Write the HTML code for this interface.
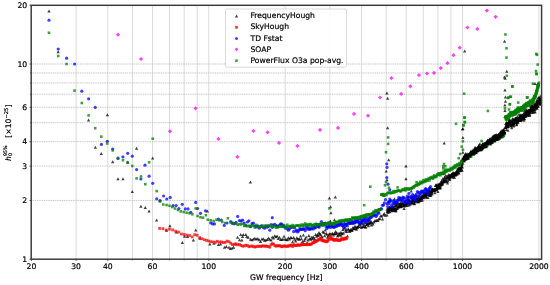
<!DOCTYPE html>
<html><head><meta charset="utf-8"><style>html,body{margin:0;padding:0;background:#fff;overflow:hidden}svg{display:block}</style></head>
<body><svg width="550" height="285" viewBox="0 0 550 285">
<rect width="550" height="285" fill="#fff"/>
<path d="M76.08 5.30V259.20M107.79 5.30V259.20M152.47 5.30V259.20M208.76 5.30V259.20M285.15 5.30V259.20M329.83 5.30V259.20M361.54 5.30V259.20M406.22 5.30V259.20M462.51 5.30V259.20M538.90 5.30V259.20M132.38 5.30V259.20M169.46 5.30V259.20M184.17 5.30V259.20M197.15 5.30V259.20M386.13 5.30V259.20M423.21 5.30V259.20M437.92 5.30V259.20M450.90 5.30V259.20" stroke="#d6d6d6" stroke-width="0.9" fill="none"/>
<path d="M31.40 200.44H541.60M31.40 166.07H541.60M31.40 141.68H541.60M31.40 107.30H541.60M31.40 64.00H541.60M31.40 122.76H541.60M31.40 94.24H541.60M31.40 82.92H541.60M31.40 72.93H541.60" stroke="#c2c2c2" stroke-width="0.95" stroke-dasharray="1.1 0.7" fill="none"/>
<g fill="#008000" fill-opacity="0.75"><path d="M458.8 162.9h2.6v2.6h-2.6z"/><path d="M459.2 162.8h2.6v2.6h-2.6z"/><path d="M459.7 160.4h2.6v2.6h-2.6z"/><path d="M460.1 159.8h2.6v2.6h-2.6z"/><path d="M460.6 160.7h2.6v2.6h-2.6z"/><path d="M461 159.5h2.6v2.6h-2.6z"/><path d="M461.4 157.7h2.6v2.6h-2.6z"/><path d="M461.9 159.8h2.6v2.6h-2.6z"/><path d="M462.3 158.9h2.6v2.6h-2.6z"/><path d="M462.7 157.9h2.6v2.6h-2.6z"/><path d="M463.2 159.6h2.6v2.6h-2.6z"/><path d="M463.6 157.6h2.6v2.6h-2.6z"/><path d="M464 156.6h2.6v2.6h-2.6z"/><path d="M464.5 157h2.6v2.6h-2.6z"/><path d="M464.9 155.9h2.6v2.6h-2.6z"/><path d="M465.3 155.8h2.6v2.6h-2.6z"/><path d="M465.7 156.5h2.6v2.6h-2.6z"/><path d="M466.2 155.5h2.6v2.6h-2.6z"/><path d="M466.6 155.4h2.6v2.6h-2.6z"/><path d="M467 156.8h2.6v2.6h-2.6z"/><path d="M467.4 155.9h2.6v2.6h-2.6z"/><path d="M467.8 155.6h2.6v2.6h-2.6z"/><path d="M468.3 155.2h2.6v2.6h-2.6z"/><path d="M468.7 154.9h2.6v2.6h-2.6z"/><path d="M469.1 155.4h2.6v2.6h-2.6z"/><path d="M469.5 154h2.6v2.6h-2.6z"/><path d="M469.9 155.2h2.6v2.6h-2.6z"/><path d="M470.3 152.7h2.6v2.6h-2.6z"/><path d="M470.7 153h2.6v2.6h-2.6z"/><path d="M471.1 151.9h2.6v2.6h-2.6z"/><path d="M471.5 152.5h2.6v2.6h-2.6z"/><path d="M471.9 152.9h2.6v2.6h-2.6z"/><path d="M472.5 153.3h2.6v2.6h-2.6z"/><path d="M473.1 151.2h2.6v2.6h-2.6z"/><path d="M473.7 151.4h2.6v2.6h-2.6z"/><path d="M474.3 150.7h2.6v2.6h-2.6z"/><path d="M474.9 150.1h2.6v2.6h-2.6z"/><path d="M475.5 149.4h2.6v2.6h-2.6z"/><path d="M476 150h2.6v2.6h-2.6z"/><path d="M476.6 148.2h2.6v2.6h-2.6z"/><path d="M477.2 149.3h2.6v2.6h-2.6z"/><path d="M477.8 148.9h2.6v2.6h-2.6z"/><path d="M478.3 148h2.6v2.6h-2.6z"/><path d="M478.9 147.3h2.6v2.6h-2.6z"/><path d="M479.5 146.6h2.6v2.6h-2.6z"/><path d="M480 148.8h2.6v2.6h-2.6z"/><path d="M480.6 145.8h2.6v2.6h-2.6z"/><path d="M481.1 147.7h2.6v2.6h-2.6z"/><path d="M481.7 146.5h2.6v2.6h-2.6z"/><path d="M482.2 145.3h2.6v2.6h-2.6z"/><path d="M482.8 144.2h2.6v2.6h-2.6z"/><path d="M483.3 145.5h2.6v2.6h-2.6z"/><path d="M483.8 145.7h2.6v2.6h-2.6z"/><path d="M484.4 143.1h2.6v2.6h-2.6z"/><path d="M484.9 143.2h2.6v2.6h-2.6z"/><path d="M485.5 143.8h2.6v2.6h-2.6z"/><path d="M486 142.8h2.6v2.6h-2.6z"/><path d="M486.5 143.8h2.6v2.6h-2.6z"/><path d="M487 141.3h2.6v2.6h-2.6z"/><path d="M487.6 141.8h2.6v2.6h-2.6z"/><path d="M488.1 139.9h2.6v2.6h-2.6z"/><path d="M488.6 142.2h2.6v2.6h-2.6z"/><path d="M489.1 139.6h2.6v2.6h-2.6z"/><path d="M489.6 138.2h2.6v2.6h-2.6z"/><path d="M490.1 139.7h2.6v2.6h-2.6z"/><path d="M490.6 139.4h2.6v2.6h-2.6z"/><path d="M491.1 140.9h2.6v2.6h-2.6z"/><path d="M491.6 138.8h2.6v2.6h-2.6z"/><path d="M492.1 138.9h2.6v2.6h-2.6z"/><path d="M492.6 139.1h2.6v2.6h-2.6z"/><path d="M493.1 139.7h2.6v2.6h-2.6z"/><path d="M493.6 138.2h2.6v2.6h-2.6z"/><path d="M494.1 138.9h2.6v2.6h-2.6z"/><path d="M494.6 138.2h2.6v2.6h-2.6z"/><path d="M495.1 137.4h2.6v2.6h-2.6z"/><path d="M495.6 137.5h2.6v2.6h-2.6z"/><path d="M496.1 137.3h2.6v2.6h-2.6z"/><path d="M496.5 136.3h2.6v2.6h-2.6z"/><path d="M497 137.8h2.6v2.6h-2.6z"/><path d="M497.5 135.6h2.6v2.6h-2.6z"/><path d="M498 137.4h2.6v2.6h-2.6z"/><path d="M498.5 137.1h2.6v2.6h-2.6z"/><path d="M498.9 136h2.6v2.6h-2.6z"/><path d="M499.4 135.2h2.6v2.6h-2.6z"/><path d="M499.9 135.4h2.6v2.6h-2.6z"/><path d="M500.3 135.7h2.6v2.6h-2.6z"/><path d="M500.8 135.7h2.6v2.6h-2.6z"/><path d="M501.2 135.1h2.6v2.6h-2.6z"/><path d="M501.7 135.5h2.6v2.6h-2.6z"/><path d="M502.2 134h2.6v2.6h-2.6z"/><path d="M502.6 134.4h2.6v2.6h-2.6z"/><path d="M503.1 132.7h2.6v2.6h-2.6z"/></g>
<g fill="#000" fill-opacity="0.75"><path d="M49 9.6l1.6 3h-3.3z"/><path d="M58.2 50.2l1.6 3h-3.3z"/><path d="M88.6 118.4l1.6 3h-3.3z"/><path d="M95.4 145.7l1.6 3h-3.3z"/><path d="M101.3 152l1.6 3h-3.3z"/><path d="M107.4 113.2l1.6 3h-3.3z"/><path d="M112.7 160.3l1.6 3h-3.3z"/><path d="M118 177.2l1.6 3h-3.3z"/><path d="M123 177.2l1.6 3h-3.3z"/><path d="M127.7 160.5l1.6 3h-3.3z"/><path d="M132.3 190l1.6 3h-3.3z"/><path d="M136.6 146.8l1.6 3h-3.3z"/><path d="M140.9 204.7l1.6 3h-3.3z"/><path d="M145.3 206.1l1.6 3h-3.3z"/><path d="M149.1 209.6l1.6 3h-3.3z"/><path d="M152.7 156.4l1.6 3h-3.3z"/><path d="M156.7 218.4l1.6 3h-3.3z"/><path d="M160 199.2l1.6 3h-3.3z"/><path d="M184.5 234.8l1.6 3h-3.3z"/><path d="M187.5 235.1l1.6 3h-3.3z"/><path d="M166.5 228.8l1.6 3h-3.3z"/><path d="M176.4 230.4l1.6 3h-3.3z"/><path d="M200 236.7l1.6 3h-3.3z"/><path d="M214 241.7l1.6 3h-3.3z"/><path d="M170 224.2l1.6 3h-3.3z"/><path d="M182.4 241l1.6 3h-3.3z"/><path d="M193.4 238.5l1.6 3h-3.3z"/><path d="M195.8 228.5l1.6 3h-3.3z"/><path d="M207.4 209.6l1.6 3h-3.3z"/><path d="M209.9 242.6l1.6 3h-3.3z"/><path d="M218.5 243.1l1.6 3h-3.3z"/><path d="M220.6 242.6l1.6 3h-3.3z"/><path d="M224.5 245.8l1.6 3h-3.3z"/><path d="M226.4 245.1l1.6 3h-3.3z"/><path d="M229 245.8l1.6 3h-3.3z"/><path d="M230.4 247l1.6 3h-3.3z"/><path d="M232.1 246.5l1.6 3h-3.3z"/><path d="M233.6 245.8l1.6 3h-3.3z"/><path d="M235.8 242.4l1.6 3h-3.3z"/><path d="M237.6 235.7l1.6 3h-3.3z"/><path d="M239.5 238.2l1.6 3h-3.3z"/><path d="M240.7 232.9l1.6 3h-3.3z"/><path d="M241.9 238.5l1.6 3h-3.3z"/><path d="M242.6 235l1.6 3h-3.3z"/><path d="M243.3 232.9l1.6 3h-3.3z"/><path d="M245.8 232.9l1.6 3h-3.3z"/><path d="M246.8 235l1.6 3h-3.3z"/><path d="M248.2 235.7l1.6 3h-3.3z"/><path d="M250.4 180.6l1.6 3h-3.3z"/><path d="M329.4 196.5l1.6 3h-3.3z"/><path d="M335.4 195.6l1.6 3h-3.3z"/><path d="M331 211.2l1.6 3h-3.3z"/><path d="M334.5 218.2l1.6 3h-3.3z"/><path d="M330.6 205.2l1.6 3h-3.3z"/><path d="M330.4 219.4l1.6 3h-3.3z"/><path d="M386.9 91.4l1.6 3h-3.3z"/><path d="M387.7 96.8l1.6 3h-3.3z"/><path d="M387.7 126.3l1.6 3h-3.3z"/><path d="M388.7 158.2l1.6 3h-3.3z"/><path d="M386.2 169.4l1.6 3h-3.3z"/><path d="M387 178.2l1.6 3h-3.3z"/><path d="M406 164.5l1.6 3h-3.3z"/><path d="M406 177.2l1.6 3h-3.3z"/><path d="M411.3 189.4l1.6 3h-3.3z"/><path d="M394.5 197.2l1.6 3h-3.3z"/><path d="M444.2 141.4l1.6 3h-3.3z"/><path d="M464.7 49.6l1.6 3h-3.3z"/><path d="M462.6 127.5l1.6 3h-3.3z"/><path d="M462.9 126.9l1.6 3h-3.3z"/><path d="M462.9 135.9l1.6 3h-3.3z"/><path d="M462.9 150.7l1.6 3h-3.3z"/><path d="M462.9 157.4l1.6 3h-3.3z"/><path d="M462.9 161.8l1.6 3h-3.3z"/><path d="M504.6 39.7l1.6 3h-3.3z"/><path d="M506.8 69.8l1.6 3h-3.3z"/><path d="M505.2 76.8l1.6 3h-3.3z"/><path d="M504.5 75.6l1.6 3h-3.3z"/><path d="M505 88.4l1.6 3h-3.3z"/><path d="M505.5 95.6l1.6 3h-3.3z"/><path d="M505.5 99.8l1.6 3h-3.3z"/><path d="M504.9 103.4l1.6 3h-3.3z"/><path d="M505 109.1l1.6 3h-3.3z"/><path d="M505 115l1.6 3h-3.3z"/><path d="M535 81.9l1.6 3h-3.3z"/><path d="M538.2 81.9l1.6 3h-3.3z"/><path d="M443.5 171.9l1.6 3h-3.3z"/><path d="M250.5 237.7l1.6 3h-3.3z"/><path d="M252 238.2l1.6 3h-3.3z"/><path d="M253.4 237.6l1.6 3h-3.3z"/><path d="M254.9 236.8l1.6 3h-3.3z"/><path d="M256.3 237.5l1.6 3h-3.3z"/><path d="M257.8 236.9l1.6 3h-3.3z"/><path d="M259.2 238.3l1.6 3h-3.3z"/><path d="M260.6 240l1.6 3h-3.3z"/><path d="M261.9 237.5l1.6 3h-3.3z"/><path d="M263.3 237.3l1.6 3h-3.3z"/><path d="M264.6 238.7l1.6 3h-3.3z"/><path d="M265.9 238.4l1.6 3h-3.3z"/><path d="M267.2 238l1.6 3h-3.3z"/><path d="M268.5 236.6l1.6 3h-3.3z"/><path d="M269.8 237.7l1.6 3h-3.3z"/><path d="M271.1 238.4l1.6 3h-3.3z"/><path d="M272.3 235.5l1.6 3h-3.3z"/><path d="M273.5 236.4l1.6 3h-3.3z"/><path d="M274.8 234.3l1.6 3h-3.3z"/><path d="M276 235.2l1.6 3h-3.3z"/><path d="M277.2 234.6l1.6 3h-3.3z"/><path d="M278.3 236.9l1.6 3h-3.3z"/><path d="M279.5 235.7l1.6 3h-3.3z"/><path d="M280.7 237.9l1.6 3h-3.3z"/><path d="M281.8 237.9l1.6 3h-3.3z"/><path d="M282.9 237.6l1.6 3h-3.3z"/><path d="M284 234.8l1.6 3h-3.3z"/><path d="M285.1 237.5l1.6 3h-3.3z"/><path d="M286.2 238.1l1.6 3h-3.3z"/><path d="M287.3 238.3l1.6 3h-3.3z"/><path d="M288.4 236.2l1.6 3h-3.3z"/><path d="M289.5 237.6l1.6 3h-3.3z"/><path d="M290.5 236l1.6 3h-3.3z"/><path d="M291.6 236.3l1.6 3h-3.3z"/><path d="M292.6 240.3l1.6 3h-3.3z"/><path d="M293.6 236.1l1.6 3h-3.3z"/><path d="M294.6 237.7l1.6 3h-3.3z"/><path d="M295.7 239.6l1.6 3h-3.3z"/><path d="M296.7 236.3l1.6 3h-3.3z"/><path d="M297.6 237.2l1.6 3h-3.3z"/><path d="M298.6 237.6l1.6 3h-3.3z"/><path d="M299.6 237.4l1.6 3h-3.3z"/><path d="M300.6 234.5l1.6 3h-3.3z"/><path d="M301.5 237.3l1.6 3h-3.3z"/><path d="M302.5 240.1l1.6 3h-3.3z"/><path d="M303.4 233.6l1.6 3h-3.3z"/><path d="M304.3 238.9l1.6 3h-3.3z"/><path d="M305.2 237.2l1.6 3h-3.3z"/><path d="M306.2 235.5l1.6 3h-3.3z"/><path d="M307.1 241.2l1.6 3h-3.3z"/><path d="M308 238.5l1.6 3h-3.3z"/><path d="M308.9 234.1l1.6 3h-3.3z"/><path d="M309.7 236.9l1.6 3h-3.3z"/><path d="M310.6 237.7l1.6 3h-3.3z"/><path d="M311.5 235.7l1.6 3h-3.3z"/><path d="M312.4 237.3l1.6 3h-3.3z"/><path d="M313.2 235.3l1.6 3h-3.3z"/><path d="M314.1 236.6l1.6 3h-3.3z"/><path d="M314.9 238l1.6 3h-3.3z"/><path d="M315.7 233.1l1.6 3h-3.3z"/><path d="M316.6 234.7l1.6 3h-3.3z"/><path d="M317.4 232.9l1.6 3h-3.3z"/><path d="M318.2 233.9l1.6 3h-3.3z"/><path d="M319 230.9l1.6 3h-3.3z"/><path d="M319.8 232.2l1.6 3h-3.3z"/><path d="M320.6 232.9l1.6 3h-3.3z"/><path d="M321.4 235.2l1.6 3h-3.3z"/><path d="M322.2 235.6l1.6 3h-3.3z"/><path d="M323 230.1l1.6 3h-3.3z"/><path d="M323.8 231.1l1.6 3h-3.3z"/><path d="M324.6 234.2l1.6 3h-3.3z"/><path d="M325.3 228.4l1.6 3h-3.3z"/><path d="M326.1 231.8l1.6 3h-3.3z"/><path d="M326.9 232.7l1.6 3h-3.3z"/><path d="M327.6 235.7l1.6 3h-3.3z"/><path d="M328.4 234.6l1.6 3h-3.3z"/><path d="M329.1 232.4l1.6 3h-3.3z"/><path d="M329.8 232.4l1.6 3h-3.3z"/><path d="M330.6 232.6l1.6 3h-3.3z"/><path d="M331.3 236.4l1.6 3h-3.3z"/><path d="M332 232l1.6 3h-3.3z"/><path d="M332.7 232.1l1.6 3h-3.3z"/><path d="M333.4 233.5l1.6 3h-3.3z"/><path d="M334.2 232.3l1.6 3h-3.3z"/><path d="M334.9 232l1.6 3h-3.3z"/><path d="M335.6 229.9l1.6 3h-3.3z"/><path d="M336.3 232.2l1.6 3h-3.3z"/><path d="M336.9 231.2l1.6 3h-3.3z"/><path d="M337.6 234.6l1.6 3h-3.3z"/><path d="M338.3 233.4l1.6 3h-3.3z"/><path d="M339 231.8l1.6 3h-3.3z"/><path d="M339.7 233.2l1.6 3h-3.3z"/><path d="M340.3 230.9l1.6 3h-3.3z"/><path d="M341 233.7l1.6 3h-3.3z"/><path d="M341.7 231.2l1.6 3h-3.3z"/><path d="M342.3 232.3l1.6 3h-3.3z"/><path d="M343 228l1.6 3h-3.3z"/><path d="M343.6 231.4l1.6 3h-3.3z"/><path d="M344.3 226.7l1.6 3h-3.3z"/><path d="M344.9 225.7l1.6 3h-3.3z"/><path d="M345.6 229.4l1.6 3h-3.3z"/><path d="M346.2 227.9l1.6 3h-3.3z"/><path d="M346.8 230l1.6 3h-3.3z"/><path d="M347.4 234.4l1.6 3h-3.3z"/><path d="M348.1 227.4l1.6 3h-3.3z"/><path d="M348.7 227.7l1.6 3h-3.3z"/><path d="M349.3 229.4l1.6 3h-3.3z"/><path d="M349.9 229.8l1.6 3h-3.3z"/><path d="M350.5 228.2l1.6 3h-3.3z"/><path d="M351.1 227.9l1.6 3h-3.3z"/><path d="M351.7 229.1l1.6 3h-3.3z"/><path d="M352.3 228.6l1.6 3h-3.3z"/><path d="M352.9 225.9l1.6 3h-3.3z"/><path d="M353.5 227.2l1.6 3h-3.3z"/><path d="M354.1 227.1l1.6 3h-3.3z"/><path d="M354.7 225.1l1.6 3h-3.3z"/><path d="M355.3 227l1.6 3h-3.3z"/><path d="M355.9 225l1.6 3h-3.3z"/><path d="M356.5 227.7l1.6 3h-3.3z"/><path d="M357 226.2l1.6 3h-3.3z"/><path d="M357.6 225.8l1.6 3h-3.3z"/><path d="M358.2 224.5l1.6 3h-3.3z"/><path d="M358.7 225l1.6 3h-3.3z"/><path d="M359.3 221.8l1.6 3h-3.3z"/><path d="M359.9 222.9l1.6 3h-3.3z"/><path d="M360.4 225.2l1.6 3h-3.3z"/><path d="M361 221l1.6 3h-3.3z"/><path d="M361.5 225.7l1.6 3h-3.3z"/><path d="M362.1 221.4l1.6 3h-3.3z"/><path d="M362.6 225.3l1.6 3h-3.3z"/><path d="M363.2 222.6l1.6 3h-3.3z"/><path d="M363.7 225l1.6 3h-3.3z"/><path d="M364.3 223.8l1.6 3h-3.3z"/><path d="M364.8 221l1.6 3h-3.3z"/><path d="M365.3 225.4l1.6 3h-3.3z"/><path d="M365.9 225.5l1.6 3h-3.3z"/><path d="M366.4 223l1.6 3h-3.3z"/><path d="M366.9 222.5l1.6 3h-3.3z"/><path d="M367.4 222.6l1.6 3h-3.3z"/><path d="M368 221.2l1.6 3h-3.3z"/><path d="M368.5 224.3l1.6 3h-3.3z"/><path d="M369 221.6l1.6 3h-3.3z"/><path d="M369.5 222.2l1.6 3h-3.3z"/><path d="M370 220.9l1.6 3h-3.3z"/><path d="M370.5 221l1.6 3h-3.3z"/><path d="M371 219.7l1.6 3h-3.3z"/><path d="M371.5 223.6l1.6 3h-3.3z"/><path d="M372 221.1l1.6 3h-3.3z"/><path d="M373 222.5l1.6 3h-3.3z"/><path d="M374 220.6l1.6 3h-3.3z"/><path d="M375 219l1.6 3h-3.3z"/><path d="M376 219.2l1.6 3h-3.3z"/><path d="M376.9 218.4l1.6 3h-3.3z"/><path d="M377.9 219l1.6 3h-3.3z"/><path d="M378.8 217.6l1.6 3h-3.3z"/><path d="M379.8 216.9l1.6 3h-3.3z"/><path d="M380.7 214.3l1.6 3h-3.3z"/><path d="M381.6 214.4l1.6 3h-3.3z"/><path d="M382.5 217.5l1.6 3h-3.3z"/><path d="M383.5 213.2l1.6 3h-3.3z"/><path d="M384.3 212l1.6 3h-3.3z"/><path d="M385.2 213.7l1.6 3h-3.3z"/><path d="M387 213.4l1.6 3h-3.3z"/><path d="M387.2 207.7l1.6 3h-3.3z"/><path d="M387.4 209.9l1.6 3h-3.3z"/><path d="M387.7 208.8l1.6 3h-3.3z"/><path d="M387.9 206.5l1.6 3h-3.3z"/><path d="M388.1 211l1.6 3h-3.3z"/><path d="M388.3 209.3l1.6 3h-3.3z"/><path d="M388.5 209.3l1.6 3h-3.3z"/><path d="M388.7 207.5l1.6 3h-3.3z"/><path d="M389 209.6l1.6 3h-3.3z"/><path d="M389.2 207.5l1.6 3h-3.3z"/><path d="M389.4 208l1.6 3h-3.3z"/><path d="M389.6 206l1.6 3h-3.3z"/><path d="M389.8 205.6l1.6 3h-3.3z"/><path d="M390 210.2l1.6 3h-3.3z"/><path d="M390.2 206.7l1.6 3h-3.3z"/><path d="M390.4 208.1l1.6 3h-3.3z"/><path d="M390.7 207.4l1.6 3h-3.3z"/><path d="M390.9 206.6l1.6 3h-3.3z"/><path d="M391.1 206.4l1.6 3h-3.3z"/><path d="M391.3 208.5l1.6 3h-3.3z"/><path d="M391.5 206.7l1.6 3h-3.3z"/><path d="M391.7 206.9l1.6 3h-3.3z"/><path d="M391.9 207.2l1.6 3h-3.3z"/><path d="M392.1 209.3l1.6 3h-3.3z"/><path d="M392.3 208.3l1.6 3h-3.3z"/><path d="M392.5 207.7l1.6 3h-3.3z"/><path d="M392.8 205.8l1.6 3h-3.3z"/><path d="M393 204.2l1.6 3h-3.3z"/><path d="M393.2 208.6l1.6 3h-3.3z"/><path d="M393.4 208.5l1.6 3h-3.3z"/><path d="M393.6 206.4l1.6 3h-3.3z"/><path d="M393.8 207.6l1.6 3h-3.3z"/><path d="M394 208l1.6 3h-3.3z"/><path d="M394.2 208l1.6 3h-3.3z"/><path d="M394.4 208.1l1.6 3h-3.3z"/><path d="M394.6 205.5l1.6 3h-3.3z"/><path d="M394.8 209.1l1.6 3h-3.3z"/><path d="M395 203.8l1.6 3h-3.3z"/><path d="M395.2 207.8l1.6 3h-3.3z"/><path d="M395.4 207l1.6 3h-3.3z"/><path d="M395.6 207.7l1.6 3h-3.3z"/><path d="M395.8 209.5l1.6 3h-3.3z"/><path d="M396 208.7l1.6 3h-3.3z"/><path d="M396.2 203.7l1.6 3h-3.3z"/><path d="M396.4 202.6l1.6 3h-3.3z"/><path d="M396.6 207.3l1.6 3h-3.3z"/><path d="M396.8 203.7l1.6 3h-3.3z"/><path d="M397.1 205.5l1.6 3h-3.3z"/><path d="M397.4 207.1l1.6 3h-3.3z"/><path d="M397.7 202.3l1.6 3h-3.3z"/><path d="M398 201.3l1.6 3h-3.3z"/><path d="M398.3 205.7l1.6 3h-3.3z"/><path d="M398.6 205.2l1.6 3h-3.3z"/><path d="M398.9 204.6l1.6 3h-3.3z"/><path d="M399.2 205l1.6 3h-3.3z"/><path d="M399.5 203.2l1.6 3h-3.3z"/><path d="M399.8 201.9l1.6 3h-3.3z"/><path d="M400.1 204.4l1.6 3h-3.3z"/><path d="M400.4 202.7l1.6 3h-3.3z"/><path d="M400.7 201.3l1.6 3h-3.3z"/><path d="M401 205.3l1.6 3h-3.3z"/><path d="M401.2 204.1l1.6 3h-3.3z"/><path d="M401.5 204.9l1.6 3h-3.3z"/><path d="M401.8 202.1l1.6 3h-3.3z"/><path d="M402.1 202.6l1.6 3h-3.3z"/><path d="M402.4 201.8l1.6 3h-3.3z"/><path d="M402.7 201.9l1.6 3h-3.3z"/><path d="M403 203.9l1.6 3h-3.3z"/><path d="M403.2 201.9l1.6 3h-3.3z"/><path d="M403.5 204l1.6 3h-3.3z"/><path d="M403.8 203.8l1.6 3h-3.3z"/><path d="M404.1 206.9l1.6 3h-3.3z"/><path d="M404.4 200.3l1.6 3h-3.3z"/><path d="M404.6 204.5l1.6 3h-3.3z"/><path d="M404.9 202.6l1.6 3h-3.3z"/><path d="M405.2 202.6l1.6 3h-3.3z"/><path d="M405.5 199.8l1.6 3h-3.3z"/><path d="M405.8 201.5l1.6 3h-3.3z"/><path d="M406 203.7l1.6 3h-3.3z"/><path d="M406.3 202l1.6 3h-3.3z"/><path d="M406.6 202.2l1.6 3h-3.3z"/><path d="M406.9 201.4l1.6 3h-3.3z"/><path d="M407.1 204l1.6 3h-3.3z"/><path d="M407.4 201.7l1.6 3h-3.3z"/><path d="M407.7 197.4l1.6 3h-3.3z"/><path d="M408 200.2l1.6 3h-3.3z"/><path d="M408.2 197.7l1.6 3h-3.3z"/><path d="M408.5 195.1l1.6 3h-3.3z"/><path d="M408.8 200.2l1.6 3h-3.3z"/><path d="M409 203.6l1.6 3h-3.3z"/><path d="M409.3 201.1l1.6 3h-3.3z"/><path d="M409.6 198.6l1.6 3h-3.3z"/><path d="M409.8 199l1.6 3h-3.3z"/><path d="M410.1 202.8l1.6 3h-3.3z"/><path d="M410.4 200.9l1.6 3h-3.3z"/><path d="M410.6 200.5l1.6 3h-3.3z"/><path d="M410.9 200.2l1.6 3h-3.3z"/><path d="M411.2 200.3l1.6 3h-3.3z"/><path d="M411.4 201.7l1.6 3h-3.3z"/><path d="M411.7 201.1l1.6 3h-3.3z"/><path d="M411.9 200.3l1.6 3h-3.3z"/><path d="M412.2 197.8l1.6 3h-3.3z"/><path d="M412.5 200.7l1.6 3h-3.3z"/><path d="M412.7 198.3l1.6 3h-3.3z"/><path d="M413 201.6l1.6 3h-3.3z"/><path d="M413.2 197l1.6 3h-3.3z"/><path d="M413.5 199l1.6 3h-3.3z"/><path d="M413.8 199.2l1.6 3h-3.3z"/><path d="M414 196.6l1.6 3h-3.3z"/><path d="M414.3 202.3l1.6 3h-3.3z"/><path d="M414.5 201.7l1.6 3h-3.3z"/><path d="M414.8 197.9l1.6 3h-3.3z"/><path d="M415 200.2l1.6 3h-3.3z"/><path d="M415.3 199.3l1.6 3h-3.3z"/><path d="M415.5 193.5l1.6 3h-3.3z"/><path d="M415.8 198.9l1.6 3h-3.3z"/><path d="M416.1 198.2l1.6 3h-3.3z"/><path d="M416.3 198.3l1.6 3h-3.3z"/><path d="M416.6 196l1.6 3h-3.3z"/><path d="M416.8 197.5l1.6 3h-3.3z"/><path d="M417.1 197.5l1.6 3h-3.3z"/><path d="M417.3 200l1.6 3h-3.3z"/><path d="M417.6 198.3l1.6 3h-3.3z"/><path d="M417.8 197.6l1.6 3h-3.3z"/><path d="M418.1 200.4l1.6 3h-3.3z"/><path d="M418.3 196.3l1.6 3h-3.3z"/><path d="M418.5 196.5l1.6 3h-3.3z"/><path d="M418.8 193.7l1.6 3h-3.3z"/><path d="M419 200.1l1.6 3h-3.3z"/><path d="M419.3 198.8l1.6 3h-3.3z"/><path d="M419.5 198.6l1.6 3h-3.3z"/><path d="M419.8 198.1l1.6 3h-3.3z"/><path d="M420 196.9l1.6 3h-3.3z"/><path d="M420.3 197l1.6 3h-3.3z"/><path d="M420.5 195.9l1.6 3h-3.3z"/><path d="M420.7 195.9l1.6 3h-3.3z"/><path d="M421 196.2l1.6 3h-3.3z"/><path d="M421.2 198.9l1.6 3h-3.3z"/><path d="M421.5 196.9l1.6 3h-3.3z"/><path d="M421.7 195.6l1.6 3h-3.3z"/><path d="M421.9 194.5l1.6 3h-3.3z"/><path d="M422.2 194.3l1.6 3h-3.3z"/><path d="M422.4 198.4l1.6 3h-3.3z"/><path d="M422.7 196.1l1.6 3h-3.3z"/><path d="M422.9 195.2l1.6 3h-3.3z"/><path d="M423.1 194.3l1.6 3h-3.3z"/><path d="M423.4 192.7l1.6 3h-3.3z"/><path d="M423.6 194.5l1.6 3h-3.3z"/><path d="M423.8 196.2l1.6 3h-3.3z"/><path d="M424.1 193.6l1.6 3h-3.3z"/><path d="M424.3 193.8l1.6 3h-3.3z"/><path d="M424.5 193.7l1.6 3h-3.3z"/><path d="M424.8 194.2l1.6 3h-3.3z"/><path d="M425 190.8l1.6 3h-3.3z"/><path d="M425.2 193.3l1.6 3h-3.3z"/><path d="M425.5 192l1.6 3h-3.3z"/><path d="M425.7 195.1l1.6 3h-3.3z"/><path d="M425.9 191.9l1.6 3h-3.3z"/><path d="M426.2 194.3l1.6 3h-3.3z"/><path d="M426.4 196l1.6 3h-3.3z"/><path d="M426.6 192.3l1.6 3h-3.3z"/><path d="M426.8 191.7l1.6 3h-3.3z"/><path d="M427.1 193l1.6 3h-3.3z"/><path d="M427.3 192.5l1.6 3h-3.3z"/><path d="M427.5 190.5l1.6 3h-3.3z"/><path d="M427.8 193.2l1.6 3h-3.3z"/><path d="M428 196l1.6 3h-3.3z"/><path d="M428.2 191.5l1.6 3h-3.3z"/><path d="M428.4 191.5l1.6 3h-3.3z"/><path d="M428.7 189.8l1.6 3h-3.3z"/><path d="M428.9 192.2l1.6 3h-3.3z"/><path d="M429.1 189.1l1.6 3h-3.3z"/><path d="M429.3 189.3l1.6 3h-3.3z"/><path d="M429.6 193.7l1.6 3h-3.3z"/><path d="M429.8 189.4l1.6 3h-3.3z"/><path d="M430 193.1l1.6 3h-3.3z"/><path d="M430.2 193.7l1.6 3h-3.3z"/><path d="M430.4 191.2l1.6 3h-3.3z"/><path d="M430.7 191.6l1.6 3h-3.3z"/><path d="M430.9 194.1l1.6 3h-3.3z"/><path d="M431.1 189.9l1.6 3h-3.3z"/><path d="M431.3 189l1.6 3h-3.3z"/><path d="M431.5 187.4l1.6 3h-3.3z"/><path d="M431.8 189.9l1.6 3h-3.3z"/><path d="M432 192.5l1.6 3h-3.3z"/><path d="M432.2 191.3l1.6 3h-3.3z"/><path d="M432.4 187.6l1.6 3h-3.3z"/><path d="M432.6 187.6l1.6 3h-3.3z"/><path d="M432.8 188.1l1.6 3h-3.3z"/><path d="M433.1 189.5l1.6 3h-3.3z"/><path d="M433.3 188.4l1.6 3h-3.3z"/><path d="M433.5 189l1.6 3h-3.3z"/><path d="M433.7 189l1.6 3h-3.3z"/><path d="M433.9 187.8l1.6 3h-3.3z"/><path d="M434.1 188.1l1.6 3h-3.3z"/><path d="M434.4 188.4l1.6 3h-3.3z"/><path d="M434.6 187.7l1.6 3h-3.3z"/><path d="M434.8 188.7l1.6 3h-3.3z"/><path d="M435 191.2l1.6 3h-3.3z"/><path d="M435.2 188.6l1.6 3h-3.3z"/><path d="M435.4 187.4l1.6 3h-3.3z"/><path d="M435.6 184l1.6 3h-3.3z"/><path d="M435.8 187.8l1.6 3h-3.3z"/><path d="M436 183.2l1.6 3h-3.3z"/><path d="M436.3 184.1l1.6 3h-3.3z"/><path d="M436.5 188.2l1.6 3h-3.3z"/><path d="M436.7 187.8l1.6 3h-3.3z"/><path d="M436.9 186l1.6 3h-3.3z"/><path d="M437.1 182.9l1.6 3h-3.3z"/><path d="M437.3 185.3l1.6 3h-3.3z"/><path d="M437.5 184.6l1.6 3h-3.3z"/><path d="M437.7 187l1.6 3h-3.3z"/><path d="M437.9 189.9l1.6 3h-3.3z"/><path d="M438.1 185.9l1.6 3h-3.3z"/><path d="M438.3 183.9l1.6 3h-3.3z"/><path d="M438.5 183l1.6 3h-3.3z"/><path d="M438.7 184.9l1.6 3h-3.3z"/><path d="M439 184.6l1.6 3h-3.3z"/><path d="M439.2 182.6l1.6 3h-3.3z"/><path d="M439.4 184.9l1.6 3h-3.3z"/><path d="M439.6 182.3l1.6 3h-3.3z"/><path d="M439.8 186.5l1.6 3h-3.3z"/><path d="M440 186.2l1.6 3h-3.3z"/><path d="M440.2 186l1.6 3h-3.3z"/><path d="M440.4 182.8l1.6 3h-3.3z"/><path d="M440.6 184.4l1.6 3h-3.3z"/><path d="M440.8 182.9l1.6 3h-3.3z"/><path d="M441 182.2l1.6 3h-3.3z"/><path d="M441.2 182l1.6 3h-3.3z"/><path d="M441.4 179.9l1.6 3h-3.3z"/><path d="M441.6 179.3l1.6 3h-3.3z"/><path d="M441.8 183.2l1.6 3h-3.3z"/><path d="M442.1 181l1.6 3h-3.3z"/><path d="M442.4 181.4l1.6 3h-3.3z"/><path d="M442.6 182.6l1.6 3h-3.3z"/><path d="M442.9 177l1.6 3h-3.3z"/><path d="M443.2 178.5l1.6 3h-3.3z"/><path d="M443.4 180l1.6 3h-3.3z"/><path d="M443.7 180.1l1.6 3h-3.3z"/><path d="M444 178.3l1.6 3h-3.3z"/><path d="M444.2 180.6l1.6 3h-3.3z"/><path d="M444.5 178.8l1.6 3h-3.3z"/><path d="M444.7 175.7l1.6 3h-3.3z"/><path d="M445 175.9l1.6 3h-3.3z"/><path d="M445.3 179.1l1.6 3h-3.3z"/><path d="M445.5 178.4l1.6 3h-3.3z"/><path d="M445.8 173.8l1.6 3h-3.3z"/><path d="M446 179.9l1.6 3h-3.3z"/><path d="M446.3 178.3l1.6 3h-3.3z"/><path d="M446.5 179.6l1.6 3h-3.3z"/><path d="M446.8 176.3l1.6 3h-3.3z"/><path d="M447 176.3l1.6 3h-3.3z"/><path d="M447.3 174.6l1.6 3h-3.3z"/><path d="M447.5 181.5l1.6 3h-3.3z"/><path d="M447.8 176.2l1.6 3h-3.3z"/><path d="M448 179.5l1.6 3h-3.3z"/><path d="M448.3 175.1l1.6 3h-3.3z"/><path d="M448.6 176.6l1.6 3h-3.3z"/><path d="M448.8 173l1.6 3h-3.3z"/><path d="M449.1 175.4l1.6 3h-3.3z"/><path d="M449.3 177.8l1.6 3h-3.3z"/><path d="M449.5 173.5l1.6 3h-3.3z"/><path d="M449.8 177.8l1.6 3h-3.3z"/><path d="M450 176.3l1.6 3h-3.3z"/><path d="M450.3 173.5l1.6 3h-3.3z"/><path d="M450.5 174.4l1.6 3h-3.3z"/><path d="M450.8 174.4l1.6 3h-3.3z"/><path d="M451 175l1.6 3h-3.3z"/><path d="M451.3 173.9l1.6 3h-3.3z"/><path d="M451.5 173.2l1.6 3h-3.3z"/><path d="M451.8 174.1l1.6 3h-3.3z"/><path d="M452 172.5l1.6 3h-3.3z"/><path d="M452.2 171.9l1.6 3h-3.3z"/><path d="M452.5 174.1l1.6 3h-3.3z"/><path d="M452.7 175.7l1.6 3h-3.3z"/><path d="M453 171l1.6 3h-3.3z"/><path d="M453.2 173.8l1.6 3h-3.3z"/><path d="M453.4 172.4l1.6 3h-3.3z"/><path d="M453.7 171.6l1.6 3h-3.3z"/><path d="M453.9 175l1.6 3h-3.3z"/><path d="M454.2 172.2l1.6 3h-3.3z"/><path d="M454.4 175.9l1.6 3h-3.3z"/><path d="M454.6 171.4l1.6 3h-3.3z"/><path d="M454.9 173.5l1.6 3h-3.3z"/><path d="M455.1 172.2l1.6 3h-3.3z"/><path d="M455.3 171l1.6 3h-3.3z"/><path d="M455.6 173.4l1.6 3h-3.3z"/><path d="M455.8 171.8l1.6 3h-3.3z"/><path d="M456 173l1.6 3h-3.3z"/><path d="M456.3 171.6l1.6 3h-3.3z"/><path d="M456.5 169.4l1.6 3h-3.3z"/><path d="M456.7 171.1l1.6 3h-3.3z"/><path d="M457 171.2l1.6 3h-3.3z"/><path d="M457.2 172.8l1.6 3h-3.3z"/><path d="M457.4 169l1.6 3h-3.3z"/><path d="M457.7 170.5l1.6 3h-3.3z"/><path d="M457.9 167.1l1.6 3h-3.3z"/><path d="M458.1 171.4l1.6 3h-3.3z"/><path d="M458.4 168l1.6 3h-3.3z"/><path d="M458.6 166.4l1.6 3h-3.3z"/><path d="M458.8 169.5l1.6 3h-3.3z"/><path d="M459 171.6l1.6 3h-3.3z"/><path d="M459.3 166.4l1.6 3h-3.3z"/><path d="M459.5 167l1.6 3h-3.3z"/><path d="M459.7 167.5l1.6 3h-3.3z"/><path d="M459.9 166.6l1.6 3h-3.3z"/><path d="M460.2 169.2l1.6 3h-3.3z"/><path d="M460.4 166.7l1.6 3h-3.3z"/><path d="M460.6 166.6l1.6 3h-3.3z"/><path d="M460.8 168.8l1.6 3h-3.3z"/><path d="M461.1 166l1.6 3h-3.3z"/><path d="M461.3 168l1.6 3h-3.3z"/><path d="M461.5 165.1l1.6 3h-3.3z"/><path d="M461.7 164.4l1.6 3h-3.3z"/><path d="M462 162.9l1.6 3h-3.3z"/><path d="M462.2 168.8l1.6 3h-3.3z"/><path d="M462.4 165.5l1.6 3h-3.3z"/><path d="M463.5 157l1.6 3h-3.3z"/><path d="M463.7 156.6l1.6 3h-3.3z"/><path d="M463.8 156.8l1.6 3h-3.3z"/><path d="M463.9 156.6l1.6 3h-3.3z"/><path d="M464 159.2l1.6 3h-3.3z"/><path d="M464.2 155l1.6 3h-3.3z"/><path d="M464.3 154.3l1.6 3h-3.3z"/><path d="M464.4 155l1.6 3h-3.3z"/><path d="M464.6 154.5l1.6 3h-3.3z"/><path d="M464.7 157.3l1.6 3h-3.3z"/><path d="M464.8 157.4l1.6 3h-3.3z"/><path d="M465 154.9l1.6 3h-3.3z"/><path d="M465.1 154.2l1.6 3h-3.3z"/><path d="M465.2 155.6l1.6 3h-3.3z"/><path d="M465.3 157.9l1.6 3h-3.3z"/><path d="M465.5 152l1.6 3h-3.3z"/><path d="M465.6 156.6l1.6 3h-3.3z"/><path d="M465.7 154.3l1.6 3h-3.3z"/><path d="M465.9 157.1l1.6 3h-3.3z"/><path d="M466 154.1l1.6 3h-3.3z"/><path d="M466.1 155.1l1.6 3h-3.3z"/><path d="M466.2 153.3l1.6 3h-3.3z"/><path d="M466.4 154l1.6 3h-3.3z"/><path d="M466.5 157.2l1.6 3h-3.3z"/><path d="M466.6 156.4l1.6 3h-3.3z"/><path d="M466.8 154.6l1.6 3h-3.3z"/><path d="M466.9 153.9l1.6 3h-3.3z"/><path d="M467 152.3l1.6 3h-3.3z"/><path d="M467.1 154.4l1.6 3h-3.3z"/><path d="M467.3 154.8l1.6 3h-3.3z"/><path d="M467.4 154.7l1.6 3h-3.3z"/><path d="M467.5 154.6l1.6 3h-3.3z"/><path d="M467.6 153l1.6 3h-3.3z"/><path d="M467.8 154.4l1.6 3h-3.3z"/><path d="M467.9 154.4l1.6 3h-3.3z"/><path d="M468 156.2l1.6 3h-3.3z"/><path d="M468.1 156.9l1.6 3h-3.3z"/><path d="M468.3 154l1.6 3h-3.3z"/><path d="M468.4 153.1l1.6 3h-3.3z"/><path d="M468.5 154l1.6 3h-3.3z"/><path d="M468.6 153.2l1.6 3h-3.3z"/><path d="M468.8 152.9l1.6 3h-3.3z"/><path d="M468.9 153.8l1.6 3h-3.3z"/><path d="M469 152.3l1.6 3h-3.3z"/><path d="M469.1 154.6l1.6 3h-3.3z"/><path d="M469.3 153.5l1.6 3h-3.3z"/><path d="M469.4 153.9l1.6 3h-3.3z"/><path d="M469.5 153.2l1.6 3h-3.3z"/><path d="M469.6 152.4l1.6 3h-3.3z"/><path d="M469.8 152l1.6 3h-3.3z"/><path d="M469.9 152.9l1.6 3h-3.3z"/><path d="M470 152.4l1.6 3h-3.3z"/><path d="M470.1 153.4l1.6 3h-3.3z"/><path d="M470.3 153l1.6 3h-3.3z"/><path d="M470.4 151l1.6 3h-3.3z"/><path d="M470.5 152.9l1.6 3h-3.3z"/><path d="M470.6 150.8l1.6 3h-3.3z"/><path d="M470.7 151.8l1.6 3h-3.3z"/><path d="M470.9 152.1l1.6 3h-3.3z"/><path d="M471 149.5l1.6 3h-3.3z"/><path d="M471.1 152.5l1.6 3h-3.3z"/><path d="M471.2 152.5l1.6 3h-3.3z"/><path d="M471.4 151.9l1.6 3h-3.3z"/><path d="M471.5 151.5l1.6 3h-3.3z"/><path d="M471.6 151.5l1.6 3h-3.3z"/><path d="M471.7 150.5l1.6 3h-3.3z"/><path d="M471.8 151.4l1.6 3h-3.3z"/><path d="M472 150.9l1.6 3h-3.3z"/><path d="M472.1 151.7l1.6 3h-3.3z"/><path d="M472.2 149.8l1.6 3h-3.3z"/><path d="M472.3 151.8l1.6 3h-3.3z"/><path d="M472.5 151.5l1.6 3h-3.3z"/><path d="M472.6 151l1.6 3h-3.3z"/><path d="M472.7 150.5l1.6 3h-3.3z"/><path d="M472.8 151.8l1.6 3h-3.3z"/><path d="M472.9 148.6l1.6 3h-3.3z"/><path d="M473.1 151.5l1.6 3h-3.3z"/><path d="M473.2 151.1l1.6 3h-3.3z"/><path d="M473.3 151.1l1.6 3h-3.3z"/><path d="M473.4 151.1l1.6 3h-3.3z"/><path d="M473.5 149.6l1.6 3h-3.3z"/><path d="M473.7 150.1l1.6 3h-3.3z"/><path d="M473.8 151.2l1.6 3h-3.3z"/><path d="M473.9 150.8l1.6 3h-3.3z"/><path d="M474 150.4l1.6 3h-3.3z"/><path d="M474.1 147.9l1.6 3h-3.3z"/><path d="M474.3 150.7l1.6 3h-3.3z"/><path d="M474.4 151.5l1.6 3h-3.3z"/><path d="M474.5 151.2l1.6 3h-3.3z"/><path d="M474.6 150l1.6 3h-3.3z"/><path d="M474.7 147.4l1.6 3h-3.3z"/><path d="M474.8 150.8l1.6 3h-3.3z"/><path d="M475 149.2l1.6 3h-3.3z"/><path d="M475.1 145.8l1.6 3h-3.3z"/><path d="M475.2 149.8l1.6 3h-3.3z"/><path d="M475.3 147.1l1.6 3h-3.3z"/><path d="M475.4 147.3l1.6 3h-3.3z"/><path d="M475.6 148.1l1.6 3h-3.3z"/><path d="M475.7 150.7l1.6 3h-3.3z"/><path d="M475.8 148.3l1.6 3h-3.3z"/><path d="M475.9 149.2l1.6 3h-3.3z"/><path d="M476 151.2l1.6 3h-3.3z"/><path d="M476.1 150.9l1.6 3h-3.3z"/><path d="M476.3 148.4l1.6 3h-3.3z"/><path d="M476.4 148.1l1.6 3h-3.3z"/><path d="M476.5 146.6l1.6 3h-3.3z"/><path d="M476.6 147.3l1.6 3h-3.3z"/><path d="M476.7 148.8l1.6 3h-3.3z"/><path d="M476.8 148.7l1.6 3h-3.3z"/><path d="M477 148.2l1.6 3h-3.3z"/><path d="M477.1 149.4l1.6 3h-3.3z"/><path d="M477.2 146.8l1.6 3h-3.3z"/><path d="M477.3 147.8l1.6 3h-3.3z"/><path d="M477.4 148.8l1.6 3h-3.3z"/><path d="M477.5 148.5l1.6 3h-3.3z"/><path d="M477.6 149.1l1.6 3h-3.3z"/><path d="M477.8 148.1l1.6 3h-3.3z"/><path d="M477.9 147l1.6 3h-3.3z"/><path d="M478 147.9l1.6 3h-3.3z"/><path d="M478.1 145.9l1.6 3h-3.3z"/><path d="M478.2 144.9l1.6 3h-3.3z"/><path d="M478.3 147.9l1.6 3h-3.3z"/><path d="M478.5 147l1.6 3h-3.3z"/><path d="M478.6 147.4l1.6 3h-3.3z"/><path d="M478.7 144.5l1.6 3h-3.3z"/><path d="M478.8 146.3l1.6 3h-3.3z"/><path d="M478.9 145.9l1.6 3h-3.3z"/><path d="M479 145.5l1.6 3h-3.3z"/><path d="M479.1 143.4l1.6 3h-3.3z"/><path d="M479.2 146l1.6 3h-3.3z"/><path d="M479.4 147.7l1.6 3h-3.3z"/><path d="M479.5 146.9l1.6 3h-3.3z"/><path d="M479.6 145.4l1.6 3h-3.3z"/><path d="M479.7 146.2l1.6 3h-3.3z"/><path d="M479.8 147.2l1.6 3h-3.3z"/><path d="M479.9 142.2l1.6 3h-3.3z"/><path d="M480 145.8l1.6 3h-3.3z"/><path d="M480.2 146.7l1.6 3h-3.3z"/><path d="M480.3 146.8l1.6 3h-3.3z"/><path d="M480.4 148.2l1.6 3h-3.3z"/><path d="M480.5 147.3l1.6 3h-3.3z"/><path d="M480.6 146.1l1.6 3h-3.3z"/><path d="M480.7 146l1.6 3h-3.3z"/><path d="M480.8 146.6l1.6 3h-3.3z"/><path d="M480.9 144.7l1.6 3h-3.3z"/><path d="M481.1 145.3l1.6 3h-3.3z"/><path d="M481.2 146.6l1.6 3h-3.3z"/><path d="M481.3 148l1.6 3h-3.3z"/><path d="M481.4 144.9l1.6 3h-3.3z"/><path d="M481.5 145l1.6 3h-3.3z"/><path d="M481.6 145.3l1.6 3h-3.3z"/><path d="M481.7 146.8l1.6 3h-3.3z"/><path d="M481.8 144.9l1.6 3h-3.3z"/><path d="M481.9 146.9l1.6 3h-3.3z"/><path d="M482.1 143.4l1.6 3h-3.3z"/><path d="M482.2 144.4l1.6 3h-3.3z"/><path d="M482.3 144.4l1.6 3h-3.3z"/><path d="M482.4 145.7l1.6 3h-3.3z"/><path d="M482.5 146l1.6 3h-3.3z"/><path d="M482.6 142.3l1.6 3h-3.3z"/><path d="M482.7 143.1l1.6 3h-3.3z"/><path d="M482.8 144.8l1.6 3h-3.3z"/><path d="M483 143.3l1.6 3h-3.3z"/><path d="M483.1 142l1.6 3h-3.3z"/><path d="M483.3 145.5l1.6 3h-3.3z"/><path d="M483.4 144.6l1.6 3h-3.3z"/><path d="M483.6 144.6l1.6 3h-3.3z"/><path d="M483.7 143.1l1.6 3h-3.3z"/><path d="M483.8 145.1l1.6 3h-3.3z"/><path d="M484 143.3l1.6 3h-3.3z"/><path d="M484.1 145.1l1.6 3h-3.3z"/><path d="M484.3 142.2l1.6 3h-3.3z"/><path d="M484.4 142.1l1.6 3h-3.3z"/><path d="M484.6 143.5l1.6 3h-3.3z"/><path d="M484.7 142.2l1.6 3h-3.3z"/><path d="M484.9 144l1.6 3h-3.3z"/><path d="M485 143.4l1.6 3h-3.3z"/><path d="M485.1 141.6l1.6 3h-3.3z"/><path d="M485.3 142.9l1.6 3h-3.3z"/><path d="M485.4 142.2l1.6 3h-3.3z"/><path d="M485.6 143.8l1.6 3h-3.3z"/><path d="M485.7 141.6l1.6 3h-3.3z"/><path d="M485.9 141.7l1.6 3h-3.3z"/><path d="M486 143.9l1.6 3h-3.3z"/><path d="M486.1 145.3l1.6 3h-3.3z"/><path d="M486.3 144.8l1.6 3h-3.3z"/><path d="M486.4 142l1.6 3h-3.3z"/><path d="M486.6 142.1l1.6 3h-3.3z"/><path d="M486.7 143.8l1.6 3h-3.3z"/><path d="M486.9 141.4l1.6 3h-3.3z"/><path d="M487 140.1l1.6 3h-3.3z"/><path d="M487.1 141.5l1.6 3h-3.3z"/><path d="M487.3 141.9l1.6 3h-3.3z"/><path d="M487.4 140l1.6 3h-3.3z"/><path d="M487.6 138.7l1.6 3h-3.3z"/><path d="M487.7 138.9l1.6 3h-3.3z"/><path d="M487.8 141.8l1.6 3h-3.3z"/><path d="M488 139.7l1.6 3h-3.3z"/><path d="M488.1 140.4l1.6 3h-3.3z"/><path d="M488.3 140.8l1.6 3h-3.3z"/><path d="M488.4 141.3l1.6 3h-3.3z"/><path d="M488.5 139.8l1.6 3h-3.3z"/><path d="M488.7 140.9l1.6 3h-3.3z"/><path d="M488.8 138.9l1.6 3h-3.3z"/><path d="M489 139.5l1.6 3h-3.3z"/><path d="M489.1 138.5l1.6 3h-3.3z"/><path d="M489.2 141.4l1.6 3h-3.3z"/><path d="M489.4 139.6l1.6 3h-3.3z"/><path d="M489.5 138.5l1.6 3h-3.3z"/><path d="M489.6 139l1.6 3h-3.3z"/><path d="M489.8 139.1l1.6 3h-3.3z"/><path d="M489.9 140.2l1.6 3h-3.3z"/><path d="M490.1 136.9l1.6 3h-3.3z"/><path d="M490.2 137.6l1.6 3h-3.3z"/><path d="M490.3 138.5l1.6 3h-3.3z"/><path d="M490.5 142.5l1.6 3h-3.3z"/><path d="M490.6 140.2l1.6 3h-3.3z"/><path d="M490.7 138.7l1.6 3h-3.3z"/><path d="M490.9 139.7l1.6 3h-3.3z"/><path d="M491 141.6l1.6 3h-3.3z"/><path d="M491.2 138.3l1.6 3h-3.3z"/><path d="M491.3 138l1.6 3h-3.3z"/><path d="M491.4 140.2l1.6 3h-3.3z"/><path d="M491.6 139.1l1.6 3h-3.3z"/><path d="M491.7 139.3l1.6 3h-3.3z"/><path d="M491.8 137.5l1.6 3h-3.3z"/><path d="M492 140.9l1.6 3h-3.3z"/><path d="M492.1 140.5l1.6 3h-3.3z"/><path d="M492.2 138.8l1.6 3h-3.3z"/><path d="M492.4 138.9l1.6 3h-3.3z"/><path d="M492.5 135.1l1.6 3h-3.3z"/><path d="M492.6 138.7l1.6 3h-3.3z"/><path d="M492.8 137.5l1.6 3h-3.3z"/><path d="M492.9 138.3l1.6 3h-3.3z"/><path d="M493 138.6l1.6 3h-3.3z"/><path d="M493.2 137.1l1.6 3h-3.3z"/><path d="M493.3 135.1l1.6 3h-3.3z"/><path d="M493.4 137.9l1.6 3h-3.3z"/><path d="M493.6 136.3l1.6 3h-3.3z"/><path d="M493.7 136.8l1.6 3h-3.3z"/><path d="M493.8 136.4l1.6 3h-3.3z"/><path d="M494 136.7l1.6 3h-3.3z"/><path d="M494.1 133.8l1.6 3h-3.3z"/><path d="M494.2 138.7l1.6 3h-3.3z"/><path d="M494.4 137.3l1.6 3h-3.3z"/><path d="M494.5 138.4l1.6 3h-3.3z"/><path d="M494.6 139.6l1.6 3h-3.3z"/><path d="M494.8 136.8l1.6 3h-3.3z"/><path d="M494.9 134.1l1.6 3h-3.3z"/><path d="M495 135.3l1.6 3h-3.3z"/><path d="M495.2 134.8l1.6 3h-3.3z"/><path d="M495.3 135.7l1.6 3h-3.3z"/><path d="M495.4 136.4l1.6 3h-3.3z"/><path d="M495.6 133.4l1.6 3h-3.3z"/><path d="M495.7 136.6l1.6 3h-3.3z"/><path d="M495.8 133.9l1.6 3h-3.3z"/><path d="M495.9 136.4l1.6 3h-3.3z"/><path d="M496.1 135.7l1.6 3h-3.3z"/><path d="M496.2 135.3l1.6 3h-3.3z"/><path d="M496.3 135.6l1.6 3h-3.3z"/><path d="M496.5 134.8l1.6 3h-3.3z"/><path d="M496.6 134.7l1.6 3h-3.3z"/><path d="M496.7 133.1l1.6 3h-3.3z"/><path d="M496.9 135.3l1.6 3h-3.3z"/><path d="M497 137.8l1.6 3h-3.3z"/><path d="M497.1 137.9l1.6 3h-3.3z"/><path d="M497.2 136.9l1.6 3h-3.3z"/><path d="M497.4 136l1.6 3h-3.3z"/><path d="M497.5 134l1.6 3h-3.3z"/><path d="M497.6 136.8l1.6 3h-3.3z"/><path d="M497.8 134.6l1.6 3h-3.3z"/><path d="M497.9 134.5l1.6 3h-3.3z"/><path d="M498 134.1l1.6 3h-3.3z"/><path d="M498.1 134.6l1.6 3h-3.3z"/><path d="M498.3 133.8l1.6 3h-3.3z"/><path d="M498.4 134.2l1.6 3h-3.3z"/><path d="M498.5 132.7l1.6 3h-3.3z"/><path d="M498.6 133.6l1.6 3h-3.3z"/><path d="M498.8 137.2l1.6 3h-3.3z"/><path d="M498.9 133.9l1.6 3h-3.3z"/><path d="M499 133.5l1.6 3h-3.3z"/><path d="M499.2 134.5l1.6 3h-3.3z"/><path d="M499.3 134.7l1.6 3h-3.3z"/><path d="M499.4 132l1.6 3h-3.3z"/><path d="M499.5 133.2l1.6 3h-3.3z"/><path d="M499.7 134.7l1.6 3h-3.3z"/><path d="M499.8 133.7l1.6 3h-3.3z"/><path d="M499.9 133.4l1.6 3h-3.3z"/><path d="M500 135.4l1.6 3h-3.3z"/><path d="M500.2 132.1l1.6 3h-3.3z"/><path d="M500.3 133.1l1.6 3h-3.3z"/><path d="M500.4 132.2l1.6 3h-3.3z"/><path d="M500.5 134.9l1.6 3h-3.3z"/><path d="M500.7 130l1.6 3h-3.3z"/><path d="M500.8 131.7l1.6 3h-3.3z"/><path d="M500.9 131.8l1.6 3h-3.3z"/><path d="M501 133.4l1.6 3h-3.3z"/><path d="M501.2 133.2l1.6 3h-3.3z"/><path d="M501.3 134.2l1.6 3h-3.3z"/><path d="M501.4 130l1.6 3h-3.3z"/><path d="M501.5 133.1l1.6 3h-3.3z"/><path d="M501.7 131.6l1.6 3h-3.3z"/><path d="M501.8 131l1.6 3h-3.3z"/><path d="M501.9 132.6l1.6 3h-3.3z"/><path d="M502 130.4l1.6 3h-3.3z"/><path d="M502.1 128.7l1.6 3h-3.3z"/><path d="M502.3 131l1.6 3h-3.3z"/><path d="M502.4 129.4l1.6 3h-3.3z"/><path d="M502.5 130.5l1.6 3h-3.3z"/><path d="M502.6 131.8l1.6 3h-3.3z"/><path d="M502.8 131.6l1.6 3h-3.3z"/><path d="M502.9 133.3l1.6 3h-3.3z"/><path d="M503 130.7l1.6 3h-3.3z"/><path d="M503.1 128.8l1.6 3h-3.3z"/><path d="M503.2 129.8l1.6 3h-3.3z"/><path d="M503.4 129.5l1.6 3h-3.3z"/><path d="M503.5 128.9l1.6 3h-3.3z"/><path d="M503.6 131.2l1.6 3h-3.3z"/><path d="M503.7 129.6l1.6 3h-3.3z"/><path d="M503.9 127.6l1.6 3h-3.3z"/><path d="M504 131.3l1.6 3h-3.3z"/><path d="M504.1 130.1l1.6 3h-3.3z"/><path d="M504.2 130.6l1.6 3h-3.3z"/><path d="M504.3 130.2l1.6 3h-3.3z"/><path d="M504.5 130.8l1.6 3h-3.3z"/><path d="M504.6 129.9l1.6 3h-3.3z"/><path d="M504.7 131.5l1.6 3h-3.3z"/><path d="M505.5 126.1l1.6 3h-3.3z"/><path d="M505.6 125.9l1.6 3h-3.3z"/><path d="M505.7 125.9l1.6 3h-3.3z"/><path d="M505.9 121.9l1.6 3h-3.3z"/><path d="M506 124.5l1.6 3h-3.3z"/><path d="M506.1 124.2l1.6 3h-3.3z"/><path d="M506.2 125.1l1.6 3h-3.3z"/><path d="M506.3 121.7l1.6 3h-3.3z"/><path d="M506.5 127.9l1.6 3h-3.3z"/><path d="M506.6 124.7l1.6 3h-3.3z"/><path d="M506.7 121.8l1.6 3h-3.3z"/><path d="M506.8 120.7l1.6 3h-3.3z"/><path d="M506.9 123.6l1.6 3h-3.3z"/><path d="M507 123.9l1.6 3h-3.3z"/><path d="M507.2 122.5l1.6 3h-3.3z"/><path d="M507.3 124.1l1.6 3h-3.3z"/><path d="M507.4 122.5l1.6 3h-3.3z"/><path d="M507.5 124.9l1.6 3h-3.3z"/><path d="M507.6 122.2l1.6 3h-3.3z"/><path d="M507.8 123.5l1.6 3h-3.3z"/><path d="M507.9 125.6l1.6 3h-3.3z"/><path d="M508 128.8l1.6 3h-3.3z"/><path d="M508.1 121.2l1.6 3h-3.3z"/><path d="M508.2 122.3l1.6 3h-3.3z"/><path d="M508.3 121.4l1.6 3h-3.3z"/><path d="M508.5 124.7l1.6 3h-3.3z"/><path d="M508.6 120.6l1.6 3h-3.3z"/><path d="M508.7 121.9l1.6 3h-3.3z"/><path d="M508.8 122.8l1.6 3h-3.3z"/><path d="M508.9 120.7l1.6 3h-3.3z"/><path d="M509 120.7l1.6 3h-3.3z"/><path d="M509.1 121.6l1.6 3h-3.3z"/><path d="M509.3 118.1l1.6 3h-3.3z"/><path d="M509.4 119.4l1.6 3h-3.3z"/><path d="M509.5 121.5l1.6 3h-3.3z"/><path d="M509.6 122.6l1.6 3h-3.3z"/><path d="M509.7 121.8l1.6 3h-3.3z"/><path d="M509.8 118.4l1.6 3h-3.3z"/><path d="M510 121.1l1.6 3h-3.3z"/><path d="M510.1 123.6l1.6 3h-3.3z"/><path d="M510.2 123.1l1.6 3h-3.3z"/><path d="M510.3 121.7l1.6 3h-3.3z"/><path d="M510.4 119.9l1.6 3h-3.3z"/><path d="M510.5 123l1.6 3h-3.3z"/><path d="M510.6 120.4l1.6 3h-3.3z"/><path d="M510.8 119.1l1.6 3h-3.3z"/><path d="M510.9 119.8l1.6 3h-3.3z"/><path d="M511 124.5l1.6 3h-3.3z"/><path d="M511.1 121.8l1.6 3h-3.3z"/><path d="M511.2 123.8l1.6 3h-3.3z"/><path d="M511.3 120.3l1.6 3h-3.3z"/><path d="M511.4 123.2l1.6 3h-3.3z"/><path d="M511.5 119.9l1.6 3h-3.3z"/><path d="M511.7 120.7l1.6 3h-3.3z"/><path d="M511.8 126.2l1.6 3h-3.3z"/><path d="M511.9 122.6l1.6 3h-3.3z"/><path d="M512 119.8l1.6 3h-3.3z"/><path d="M512.1 120.6l1.6 3h-3.3z"/><path d="M512.2 121.4l1.6 3h-3.3z"/><path d="M512.3 123.2l1.6 3h-3.3z"/><path d="M512.4 119.6l1.6 3h-3.3z"/><path d="M512.6 116.9l1.6 3h-3.3z"/><path d="M512.7 119.9l1.6 3h-3.3z"/><path d="M512.8 120.5l1.6 3h-3.3z"/><path d="M512.9 120.6l1.6 3h-3.3z"/><path d="M513 123.1l1.6 3h-3.3z"/><path d="M513.1 120.9l1.6 3h-3.3z"/><path d="M513.2 121.9l1.6 3h-3.3z"/><path d="M513.3 117.8l1.6 3h-3.3z"/><path d="M513.5 121.9l1.6 3h-3.3z"/><path d="M513.6 124.4l1.6 3h-3.3z"/><path d="M513.7 121.6l1.6 3h-3.3z"/><path d="M513.8 120.4l1.6 3h-3.3z"/><path d="M513.9 120.1l1.6 3h-3.3z"/><path d="M514 123.5l1.6 3h-3.3z"/><path d="M514.1 117.7l1.6 3h-3.3z"/><path d="M514.2 119.4l1.6 3h-3.3z"/><path d="M514.3 120.5l1.6 3h-3.3z"/><path d="M514.4 121.1l1.6 3h-3.3z"/><path d="M514.6 118.5l1.6 3h-3.3z"/><path d="M514.7 120l1.6 3h-3.3z"/><path d="M514.8 118.7l1.6 3h-3.3z"/><path d="M515 119.5l1.6 3h-3.3z"/><path d="M515.1 118.9l1.6 3h-3.3z"/><path d="M515.2 116.7l1.6 3h-3.3z"/><path d="M515.4 119l1.6 3h-3.3z"/><path d="M515.5 120.8l1.6 3h-3.3z"/><path d="M515.7 116.8l1.6 3h-3.3z"/><path d="M515.8 118.3l1.6 3h-3.3z"/><path d="M515.9 120.1l1.6 3h-3.3z"/><path d="M516.1 116.4l1.6 3h-3.3z"/><path d="M516.2 119l1.6 3h-3.3z"/><path d="M516.3 116.3l1.6 3h-3.3z"/><path d="M516.5 120.9l1.6 3h-3.3z"/><path d="M516.6 123.3l1.6 3h-3.3z"/><path d="M516.7 122.6l1.6 3h-3.3z"/><path d="M516.9 117.8l1.6 3h-3.3z"/><path d="M517 119.8l1.6 3h-3.3z"/><path d="M517.1 118.4l1.6 3h-3.3z"/><path d="M517.3 118.3l1.6 3h-3.3z"/><path d="M517.4 121.2l1.6 3h-3.3z"/><path d="M517.5 115.2l1.6 3h-3.3z"/><path d="M517.7 120.1l1.6 3h-3.3z"/><path d="M517.8 117.7l1.6 3h-3.3z"/><path d="M517.9 120.7l1.6 3h-3.3z"/><path d="M518.1 118.1l1.6 3h-3.3z"/><path d="M518.2 116.2l1.6 3h-3.3z"/><path d="M518.3 118.1l1.6 3h-3.3z"/><path d="M518.5 119l1.6 3h-3.3z"/><path d="M518.6 117.5l1.6 3h-3.3z"/><path d="M518.7 118.4l1.6 3h-3.3z"/><path d="M518.9 116.2l1.6 3h-3.3z"/><path d="M519 112.7l1.6 3h-3.3z"/><path d="M519.1 119l1.6 3h-3.3z"/><path d="M519.3 118.5l1.6 3h-3.3z"/><path d="M519.4 117.3l1.6 3h-3.3z"/><path d="M519.5 117.1l1.6 3h-3.3z"/><path d="M519.7 119l1.6 3h-3.3z"/><path d="M519.8 115.8l1.6 3h-3.3z"/><path d="M519.9 115.3l1.6 3h-3.3z"/><path d="M520.1 116.3l1.6 3h-3.3z"/><path d="M520.2 119.1l1.6 3h-3.3z"/><path d="M520.3 113.6l1.6 3h-3.3z"/><path d="M520.4 118.9l1.6 3h-3.3z"/><path d="M520.6 114.9l1.6 3h-3.3z"/><path d="M520.7 113.9l1.6 3h-3.3z"/><path d="M520.8 118.7l1.6 3h-3.3z"/><path d="M521 115.8l1.6 3h-3.3z"/><path d="M521.1 113.2l1.6 3h-3.3z"/><path d="M521.2 115l1.6 3h-3.3z"/><path d="M521.4 117.7l1.6 3h-3.3z"/><path d="M521.5 118.1l1.6 3h-3.3z"/><path d="M521.6 114.6l1.6 3h-3.3z"/><path d="M521.7 116.3l1.6 3h-3.3z"/><path d="M521.9 116.8l1.6 3h-3.3z"/><path d="M522 113.9l1.6 3h-3.3z"/><path d="M522.1 115.9l1.6 3h-3.3z"/><path d="M522.3 115l1.6 3h-3.3z"/><path d="M522.4 113.8l1.6 3h-3.3z"/><path d="M522.5 113.8l1.6 3h-3.3z"/><path d="M522.6 114.9l1.6 3h-3.3z"/><path d="M522.8 114.7l1.6 3h-3.3z"/><path d="M522.9 113.4l1.6 3h-3.3z"/><path d="M523 113.6l1.6 3h-3.3z"/><path d="M523.1 116.7l1.6 3h-3.3z"/><path d="M523.3 114.7l1.6 3h-3.3z"/><path d="M523.4 116l1.6 3h-3.3z"/><path d="M523.5 116.6l1.6 3h-3.3z"/><path d="M523.7 115.2l1.6 3h-3.3z"/><path d="M523.8 118.7l1.6 3h-3.3z"/><path d="M523.9 112.1l1.6 3h-3.3z"/><path d="M524 115.4l1.6 3h-3.3z"/><path d="M524.2 113l1.6 3h-3.3z"/><path d="M524.3 117.4l1.6 3h-3.3z"/><path d="M524.4 117l1.6 3h-3.3z"/><path d="M524.5 109.2l1.6 3h-3.3z"/><path d="M524.7 111.2l1.6 3h-3.3z"/><path d="M524.8 114.6l1.6 3h-3.3z"/><path d="M524.9 114.7l1.6 3h-3.3z"/><path d="M525 114.5l1.6 3h-3.3z"/><path d="M525.2 112.7l1.6 3h-3.3z"/><path d="M525.3 113.7l1.6 3h-3.3z"/><path d="M525.4 114.1l1.6 3h-3.3z"/><path d="M525.5 112.5l1.6 3h-3.3z"/><path d="M525.7 114.7l1.6 3h-3.3z"/><path d="M525.8 107.7l1.6 3h-3.3z"/><path d="M525.9 113.7l1.6 3h-3.3z"/><path d="M526 110.1l1.6 3h-3.3z"/><path d="M526.2 114.2l1.6 3h-3.3z"/><path d="M526.3 111.6l1.6 3h-3.3z"/><path d="M526.4 110.1l1.6 3h-3.3z"/><path d="M526.5 112.7l1.6 3h-3.3z"/><path d="M526.7 109.9l1.6 3h-3.3z"/><path d="M526.8 109.8l1.6 3h-3.3z"/><path d="M526.9 108.3l1.6 3h-3.3z"/><path d="M527 111.5l1.6 3h-3.3z"/><path d="M527.1 112.5l1.6 3h-3.3z"/><path d="M527.3 113.5l1.6 3h-3.3z"/><path d="M527.4 111l1.6 3h-3.3z"/><path d="M527.5 113.4l1.6 3h-3.3z"/><path d="M527.6 111.1l1.6 3h-3.3z"/><path d="M527.8 110.8l1.6 3h-3.3z"/><path d="M527.9 112.1l1.6 3h-3.3z"/><path d="M528 113.1l1.6 3h-3.3z"/><path d="M528.1 110l1.6 3h-3.3z"/><path d="M528.2 110.2l1.6 3h-3.3z"/><path d="M528.4 110.2l1.6 3h-3.3z"/><path d="M528.5 110.7l1.6 3h-3.3z"/><path d="M528.6 108.5l1.6 3h-3.3z"/><path d="M528.7 112.5l1.6 3h-3.3z"/><path d="M528.8 109.4l1.6 3h-3.3z"/><path d="M529 111.1l1.6 3h-3.3z"/><path d="M529.1 108.3l1.6 3h-3.3z"/><path d="M529.2 110.7l1.6 3h-3.3z"/><path d="M529.3 110.7l1.6 3h-3.3z"/><path d="M529.4 108.9l1.6 3h-3.3z"/><path d="M529.6 114l1.6 3h-3.3z"/><path d="M529.7 110.4l1.6 3h-3.3z"/><path d="M529.8 113.3l1.6 3h-3.3z"/><path d="M529.9 111.5l1.6 3h-3.3z"/><path d="M530 108l1.6 3h-3.3z"/><path d="M530.2 108.5l1.6 3h-3.3z"/><path d="M530.3 110.1l1.6 3h-3.3z"/><path d="M530.4 109.2l1.6 3h-3.3z"/><path d="M530.5 109.1l1.6 3h-3.3z"/><path d="M530.6 108.3l1.6 3h-3.3z"/><path d="M530.8 105l1.6 3h-3.3z"/><path d="M530.9 108.3l1.6 3h-3.3z"/><path d="M531 104l1.6 3h-3.3z"/><path d="M531.1 109.4l1.6 3h-3.3z"/><path d="M531.2 107l1.6 3h-3.3z"/><path d="M531.4 106.9l1.6 3h-3.3z"/><path d="M531.5 107.9l1.6 3h-3.3z"/><path d="M531.6 108.8l1.6 3h-3.3z"/><path d="M531.7 105.1l1.6 3h-3.3z"/><path d="M531.8 104.4l1.6 3h-3.3z"/><path d="M531.9 105.7l1.6 3h-3.3z"/><path d="M532.1 103.6l1.6 3h-3.3z"/><path d="M532.2 105.8l1.6 3h-3.3z"/><path d="M532.3 111l1.6 3h-3.3z"/><path d="M532.4 105.4l1.6 3h-3.3z"/><path d="M532.5 108.9l1.6 3h-3.3z"/><path d="M532.6 104.6l1.6 3h-3.3z"/><path d="M532.8 108l1.6 3h-3.3z"/><path d="M532.9 106.6l1.6 3h-3.3z"/><path d="M533 107.1l1.6 3h-3.3z"/><path d="M533.1 108.3l1.6 3h-3.3z"/><path d="M533.2 110.7l1.6 3h-3.3z"/><path d="M533.3 107.3l1.6 3h-3.3z"/><path d="M533.5 107.1l1.6 3h-3.3z"/><path d="M533.6 104.7l1.6 3h-3.3z"/><path d="M533.7 107.9l1.6 3h-3.3z"/><path d="M533.8 106.1l1.6 3h-3.3z"/><path d="M533.9 108.2l1.6 3h-3.3z"/><path d="M534 106.3l1.6 3h-3.3z"/><path d="M534.1 110l1.6 3h-3.3z"/><path d="M534.3 102.1l1.6 3h-3.3z"/><path d="M534.4 105.5l1.6 3h-3.3z"/><path d="M534.5 107.9l1.6 3h-3.3z"/><path d="M534.6 105.3l1.6 3h-3.3z"/><path d="M534.7 104.2l1.6 3h-3.3z"/><path d="M534.8 105.3l1.6 3h-3.3z"/><path d="M535 102.8l1.6 3h-3.3z"/><path d="M535.1 105.9l1.6 3h-3.3z"/><path d="M535.2 110.6l1.6 3h-3.3z"/><path d="M535.3 107.7l1.6 3h-3.3z"/><path d="M535.4 102.8l1.6 3h-3.3z"/><path d="M535.5 103.2l1.6 3h-3.3z"/><path d="M535.6 104l1.6 3h-3.3z"/><path d="M535.7 106.8l1.6 3h-3.3z"/><path d="M535.9 102.8l1.6 3h-3.3z"/><path d="M536 103l1.6 3h-3.3z"/><path d="M536.1 106.1l1.6 3h-3.3z"/><path d="M536.2 105.9l1.6 3h-3.3z"/><path d="M536.3 103.2l1.6 3h-3.3z"/><path d="M536.4 101.5l1.6 3h-3.3z"/><path d="M536.5 100.4l1.6 3h-3.3z"/><path d="M536.7 102l1.6 3h-3.3z"/><path d="M536.8 98.7l1.6 3h-3.3z"/><path d="M536.9 104.8l1.6 3h-3.3z"/><path d="M537 101.7l1.6 3h-3.3z"/><path d="M537.1 103.9l1.6 3h-3.3z"/><path d="M537.2 106.7l1.6 3h-3.3z"/><path d="M537.3 105.1l1.6 3h-3.3z"/><path d="M537.4 100l1.6 3h-3.3z"/><path d="M537.5 104.1l1.6 3h-3.3z"/><path d="M537.7 104.6l1.6 3h-3.3z"/><path d="M537.8 100.4l1.6 3h-3.3z"/><path d="M537.9 99.9l1.6 3h-3.3z"/><path d="M538 101.5l1.6 3h-3.3z"/><path d="M538.1 98.2l1.6 3h-3.3z"/><path d="M538.2 104.5l1.6 3h-3.3z"/><path d="M538.3 96.2l1.6 3h-3.3z"/><path d="M538.4 98.7l1.6 3h-3.3z"/><path d="M538.5 100.3l1.6 3h-3.3z"/><path d="M538.7 100.2l1.6 3h-3.3z"/><path d="M538.8 100.9l1.6 3h-3.3z"/><path d="M538.9 101l1.6 3h-3.3z"/><path d="M539 99.8l1.6 3h-3.3z"/><path d="M539.1 102.4l1.6 3h-3.3z"/><path d="M539.2 95.4l1.6 3h-3.3z"/><path d="M539.4 99.7l1.6 3h-3.3z"/><path d="M539.5 98l1.6 3h-3.3z"/><path d="M539.6 99.5l1.6 3h-3.3z"/><path d="M539.8 99.5l1.6 3h-3.3z"/><path d="M539.9 97l1.6 3h-3.3z"/><path d="M540 97.3l1.6 3h-3.3z"/><path d="M540.1 100.1l1.6 3h-3.3z"/><path d="M540.3 99l1.6 3h-3.3z"/><path d="M540.4 96.7l1.6 3h-3.3z"/><path d="M540.5 102.2l1.6 3h-3.3z"/><path d="M540.7 102.5l1.6 3h-3.3z"/><path d="M540.8 94.4l1.6 3h-3.3z"/><path d="M540.9 97.9l1.6 3h-3.3z"/></g>
<g fill="#ff0000" fill-opacity="0.75"><path d="M158.2 227h2.8v2.8h-2.8z"/><path d="M161.6 227.3h2.8v2.8h-2.8z"/><path d="M164.9 228.6h2.8v2.8h-2.8z"/><path d="M168.1 227.7h2.8v2.8h-2.8z"/><path d="M171.2 228.5h2.8v2.8h-2.8z"/><path d="M174.2 229.8h2.8v2.8h-2.8z"/><path d="M177.1 230.7h2.8v2.8h-2.8z"/><path d="M180 232.6h2.8v2.8h-2.8z"/><path d="M182.8 233.1h2.8v2.8h-2.8z"/><path d="M185.5 233.7h2.8v2.8h-2.8z"/><path d="M188.1 234.1h2.8v2.8h-2.8z"/><path d="M190.7 235.5h2.8v2.8h-2.8z"/><path d="M193.3 233.3h2.8v2.8h-2.8z"/><path d="M195.8 233.8h2.8v2.8h-2.8z"/><path d="M198.2 236.3h2.8v2.8h-2.8z"/><path d="M200.5 237.3h2.8v2.8h-2.8z"/><path d="M202.9 238.3h2.8v2.8h-2.8z"/><path d="M205.1 239h2.8v2.8h-2.8z"/><path d="M207.4 239.6h2.8v2.8h-2.8z"/><path d="M209.5 240.3h2.8v2.8h-2.8z"/><path d="M211.7 240.6h2.8v2.8h-2.8z"/><path d="M213.8 241.1h2.8v2.8h-2.8z"/><path d="M215.8 239.9h2.8v2.8h-2.8z"/><path d="M217.9 240.7h2.8v2.8h-2.8z"/><path d="M219.9 240.5h2.8v2.8h-2.8z"/><path d="M221.8 241.1h2.8v2.8h-2.8z"/><path d="M223.7 241h2.8v2.8h-2.8z"/><path d="M225.6 239.7h2.8v2.8h-2.8z"/><path d="M227.5 240.3h2.8v2.8h-2.8z"/><path d="M229.3 241.9h2.8v2.8h-2.8z"/><path d="M231.1 243.2h2.8v2.8h-2.8z"/><path d="M232.8 242.8h2.8v2.8h-2.8z"/><path d="M234.6 242.5h2.8v2.8h-2.8z"/><path d="M236.3 243.4h2.8v2.8h-2.8z"/><path d="M238 243.1h2.8v2.8h-2.8z"/><path d="M239.6 244.1h2.8v2.8h-2.8z"/><path d="M241.2 244.7h2.8v2.8h-2.8z"/><path d="M242.9 244.6h2.8v2.8h-2.8z"/><path d="M244.4 243.8h2.8v2.8h-2.8z"/><path d="M246 244.1h2.8v2.8h-2.8z"/><path d="M247.5 245.3h2.8v2.8h-2.8z"/><path d="M249.1 244.8h2.8v2.8h-2.8z"/><path d="M250.6 244.6h2.8v2.8h-2.8z"/><path d="M252 245.1h2.8v2.8h-2.8z"/><path d="M253.5 245.8h2.8v2.8h-2.8z"/><path d="M254.9 245.3h2.8v2.8h-2.8z"/><path d="M256.4 244.8h2.8v2.8h-2.8z"/><path d="M257.8 244.9h2.8v2.8h-2.8z"/><path d="M259.2 245.1h2.8v2.8h-2.8z"/><path d="M260.5 244.6h2.8v2.8h-2.8z"/><path d="M261.9 244.4h2.8v2.8h-2.8z"/><path d="M263.2 244.9h2.8v2.8h-2.8z"/><path d="M264.5 244.5h2.8v2.8h-2.8z"/><path d="M265.8 245h2.8v2.8h-2.8z"/><path d="M267.1 245h2.8v2.8h-2.8z"/><path d="M268.4 245.8h2.8v2.8h-2.8z"/><path d="M269.7 243.2h2.8v2.8h-2.8z"/><path d="M270.9 242.3h2.8v2.8h-2.8z"/><path d="M272.1 242.6h2.8v2.8h-2.8z"/><path d="M273.4 244.1h2.8v2.8h-2.8z"/><path d="M274.6 244.8h2.8v2.8h-2.8z"/><path d="M275.8 244.3h2.8v2.8h-2.8z"/><path d="M276.9 244.4h2.8v2.8h-2.8z"/><path d="M278.1 244.3h2.8v2.8h-2.8z"/><path d="M279.3 244.7h2.8v2.8h-2.8z"/><path d="M280.4 245.3h2.8v2.8h-2.8z"/><path d="M281.5 245h2.8v2.8h-2.8z"/><path d="M282.6 244.4h2.8v2.8h-2.8z"/><path d="M283.8 244.7h2.8v2.8h-2.8z"/><path d="M284.8 244.8h2.8v2.8h-2.8z"/><path d="M285.9 245h2.8v2.8h-2.8z"/><path d="M287 244.4h2.8v2.8h-2.8z"/><path d="M288.1 244.5h2.8v2.8h-2.8z"/><path d="M289.1 243.7h2.8v2.8h-2.8z"/><path d="M290.2 243.9h2.8v2.8h-2.8z"/><path d="M291.2 245.1h2.8v2.8h-2.8z"/><path d="M292.2 243.3h2.8v2.8h-2.8z"/><path d="M293.2 244h2.8v2.8h-2.8z"/><path d="M294.3 244.2h2.8v2.8h-2.8z"/><path d="M295.3 243.8h2.8v2.8h-2.8z"/><path d="M296.2 243.5h2.8v2.8h-2.8z"/><path d="M297.2 243.8h2.8v2.8h-2.8z"/><path d="M298.2 243.7h2.8v2.8h-2.8z"/><path d="M299.2 243.6h2.8v2.8h-2.8z"/><path d="M300.1 242.7h2.8v2.8h-2.8z"/><path d="M301.1 243.4h2.8v2.8h-2.8z"/><path d="M302 242.9h2.8v2.8h-2.8z"/><path d="M302.9 243h2.8v2.8h-2.8z"/><path d="M303.8 243.2h2.8v2.8h-2.8z"/><path d="M304.8 243.3h2.8v2.8h-2.8z"/><path d="M305.7 243.3h2.8v2.8h-2.8z"/><path d="M306.6 242.6h2.8v2.8h-2.8z"/><path d="M307.5 243.1h2.8v2.8h-2.8z"/><path d="M308.3 243.2h2.8v2.8h-2.8z"/><path d="M309.2 242.9h2.8v2.8h-2.8z"/><path d="M310.1 242.6h2.8v2.8h-2.8z"/><path d="M311 241.6h2.8v2.8h-2.8z"/><path d="M311.8 241.2h2.8v2.8h-2.8z"/><path d="M312.7 241.3h2.8v2.8h-2.8z"/><path d="M313.5 239.9h2.8v2.8h-2.8z"/><path d="M314.3 240.3h2.8v2.8h-2.8z"/><path d="M315.2 239.6h2.8v2.8h-2.8z"/><path d="M316 239.3h2.8v2.8h-2.8z"/><path d="M316.8 238.3h2.8v2.8h-2.8z"/><path d="M317.6 238.3h2.8v2.8h-2.8z"/><path d="M318.4 237.4h2.8v2.8h-2.8z"/><path d="M319.2 236.6h2.8v2.8h-2.8z"/><path d="M320 238.5h2.8v2.8h-2.8z"/><path d="M320.8 239h2.8v2.8h-2.8z"/><path d="M321.6 239.5h2.8v2.8h-2.8z"/><path d="M322.4 239.2h2.8v2.8h-2.8z"/><path d="M323.2 239.8h2.8v2.8h-2.8z"/><path d="M323.9 239.5h2.8v2.8h-2.8z"/><path d="M324.7 239.9h2.8v2.8h-2.8z"/><path d="M325.5 240.4h2.8v2.8h-2.8z"/><path d="M326.2 239.6h2.8v2.8h-2.8z"/><path d="M327 238.5h2.8v2.8h-2.8z"/><path d="M327.7 237.8h2.8v2.8h-2.8z"/><path d="M328.4 236h2.8v2.8h-2.8z"/><path d="M329.2 234.4h2.8v2.8h-2.8z"/><path d="M329.9 237.6h2.8v2.8h-2.8z"/><path d="M330.6 237.8h2.8v2.8h-2.8z"/><path d="M331.3 237.3h2.8v2.8h-2.8z"/><path d="M332 238.5h2.8v2.8h-2.8z"/><path d="M332.8 238.9h2.8v2.8h-2.8z"/><path d="M333.5 238.4h2.8v2.8h-2.8z"/><path d="M334.2 238.3h2.8v2.8h-2.8z"/><path d="M334.9 238.3h2.8v2.8h-2.8z"/><path d="M335.5 238.6h2.8v2.8h-2.8z"/><path d="M336.2 238.7h2.8v2.8h-2.8z"/><path d="M336.9 238.9h2.8v2.8h-2.8z"/><path d="M337.6 238.8h2.8v2.8h-2.8z"/><path d="M338.3 238.8h2.8v2.8h-2.8z"/><path d="M338.9 238.7h2.8v2.8h-2.8z"/><path d="M339.6 238.3h2.8v2.8h-2.8z"/><path d="M340.3 237.2h2.8v2.8h-2.8z"/><path d="M340.9 237.7h2.8v2.8h-2.8z"/><path d="M341.6 237.7h2.8v2.8h-2.8z"/><path d="M342.2 237.3h2.8v2.8h-2.8z"/><path d="M342.9 237.8h2.8v2.8h-2.8z"/><path d="M343.5 237.1h2.8v2.8h-2.8z"/><path d="M344.2 236.6h2.8v2.8h-2.8z"/><path d="M344.8 237.4h2.8v2.8h-2.8z"/><path d="M345.4 236.8h2.8v2.8h-2.8z"/></g>
<g fill="#0000ff" fill-opacity="0.75"><circle cx="49" cy="20.2" r="1.6"/><circle cx="58.2" cy="49" r="1.6"/><circle cx="66.6" cy="58.2" r="1.6"/><circle cx="74.6" cy="64" r="1.6"/><circle cx="81.8" cy="91.2" r="1.6"/><circle cx="88.6" cy="98.8" r="1.6"/><circle cx="95.2" cy="107.4" r="1.6"/><circle cx="101.4" cy="144.4" r="1.6"/><circle cx="107.3" cy="141.3" r="1.6"/><circle cx="112.7" cy="149" r="1.6"/><circle cx="118" cy="158.2" r="1.6"/><circle cx="122.9" cy="156.8" r="1.6"/><circle cx="127.7" cy="153.3" r="1.6"/><circle cx="132.3" cy="156.2" r="1.6"/><circle cx="136.6" cy="169.6" r="1.6"/><circle cx="140.9" cy="179" r="1.6"/><circle cx="145" cy="165.2" r="1.6"/><circle cx="149.1" cy="176.2" r="1.6"/><circle cx="152.7" cy="183.3" r="1.6"/><circle cx="156.7" cy="198.8" r="1.6"/><circle cx="160" cy="200.6" r="1.6"/><circle cx="163.6" cy="196" r="1.6"/><circle cx="166.8" cy="199" r="1.6"/><circle cx="170.2" cy="197.4" r="1.6"/><circle cx="173.1" cy="205.6" r="1.6"/><circle cx="176.2" cy="205.6" r="1.6"/><circle cx="178.9" cy="208.5" r="1.6"/><circle cx="182.3" cy="204.3" r="1.6"/><circle cx="185.3" cy="208.9" r="1.6"/><circle cx="188.1" cy="208.9" r="1.6"/><circle cx="190.8" cy="212.3" r="1.6"/><circle cx="195.7" cy="202.4" r="1.6"/><circle cx="197.6" cy="208.5" r="1.6"/><circle cx="200.5" cy="213.3" r="1.6"/><circle cx="205.5" cy="210.8" r="1.6"/><circle cx="210.7" cy="223" r="1.6"/><circle cx="212.6" cy="223.9" r="1.6"/><circle cx="214.5" cy="223.9" r="1.6"/><circle cx="218.4" cy="219.1" r="1.6"/><circle cx="221.3" cy="220" r="1.6"/><circle cx="224.2" cy="225.4" r="1.6"/><circle cx="227" cy="223" r="1.6"/><circle cx="272.3" cy="217.7" r="1.6"/><circle cx="386.8" cy="163.8" r="1.6"/><circle cx="387" cy="167.4" r="1.6"/><circle cx="386.8" cy="177.5" r="1.6"/><circle cx="388" cy="184.2" r="1.6"/><circle cx="389.8" cy="189.9" r="1.6"/><circle cx="385.5" cy="199.7" r="1.6"/><circle cx="389.8" cy="199" r="1.6"/><circle cx="230.7" cy="221.6" r="1.6"/><circle cx="232.5" cy="223.4" r="1.6"/><circle cx="234.2" cy="223.8" r="1.6"/><circle cx="236" cy="222.4" r="1.6"/><circle cx="237.7" cy="216.4" r="1.6"/><circle cx="239.4" cy="220.5" r="1.6"/><circle cx="241" cy="221.1" r="1.6"/><circle cx="242.6" cy="220.2" r="1.6"/><circle cx="244.3" cy="223.1" r="1.6"/><circle cx="245.8" cy="225.5" r="1.6"/><circle cx="247.4" cy="222" r="1.6"/><circle cx="248.9" cy="220.8" r="1.6"/><circle cx="250.5" cy="226.7" r="1.6"/><circle cx="252" cy="223.7" r="1.6"/><circle cx="253.4" cy="223.2" r="1.6"/><circle cx="254.9" cy="226" r="1.6"/><circle cx="256.3" cy="226.9" r="1.6"/><circle cx="257.8" cy="225.8" r="1.6"/><circle cx="259.2" cy="228.2" r="1.6"/><circle cx="260.6" cy="226.3" r="1.6"/><circle cx="261.9" cy="225.6" r="1.6"/><circle cx="263.3" cy="227.3" r="1.6"/><circle cx="264.6" cy="228.2" r="1.6"/><circle cx="265.9" cy="226" r="1.6"/><circle cx="267.2" cy="227.2" r="1.6"/><circle cx="268.5" cy="226.2" r="1.6"/><circle cx="269.8" cy="230.2" r="1.6"/><circle cx="271.1" cy="224.5" r="1.6"/><circle cx="272.3" cy="227.3" r="1.6"/><circle cx="273.5" cy="224.8" r="1.6"/><circle cx="274.8" cy="224.4" r="1.6"/><circle cx="276" cy="225.6" r="1.6"/><circle cx="277.2" cy="226" r="1.6"/><circle cx="278.3" cy="226.6" r="1.6"/><circle cx="279.5" cy="225.2" r="1.6"/><circle cx="280.7" cy="223.9" r="1.6"/><circle cx="281.8" cy="224.1" r="1.6"/><circle cx="282.9" cy="225.7" r="1.6"/><circle cx="284" cy="225.9" r="1.6"/><circle cx="285.1" cy="227.9" r="1.6"/><circle cx="286.2" cy="227.1" r="1.6"/><circle cx="287.3" cy="228.8" r="1.6"/><circle cx="288.4" cy="230.2" r="1.6"/><circle cx="289.5" cy="228.9" r="1.6"/><circle cx="290.5" cy="226.8" r="1.6"/><circle cx="291.6" cy="227.3" r="1.6"/><circle cx="292.6" cy="227" r="1.6"/><circle cx="293.6" cy="231.6" r="1.6"/><circle cx="294.6" cy="228" r="1.6"/><circle cx="295.7" cy="231.1" r="1.6"/><circle cx="296.7" cy="230.2" r="1.6"/><circle cx="297.6" cy="232" r="1.6"/><circle cx="298.6" cy="230.9" r="1.6"/><circle cx="299.6" cy="229.3" r="1.6"/><circle cx="300.6" cy="229.2" r="1.6"/><circle cx="301.5" cy="229.4" r="1.6"/><circle cx="302.5" cy="229.4" r="1.6"/><circle cx="303.4" cy="228.6" r="1.6"/><circle cx="304.3" cy="229" r="1.6"/><circle cx="305.2" cy="230.7" r="1.6"/><circle cx="306.2" cy="227" r="1.6"/><circle cx="307.1" cy="229.1" r="1.6"/><circle cx="308" cy="227.7" r="1.6"/><circle cx="308.9" cy="228.8" r="1.6"/><circle cx="309.7" cy="229.4" r="1.6"/><circle cx="310.6" cy="228.3" r="1.6"/><circle cx="311.5" cy="229" r="1.6"/><circle cx="312.4" cy="226.2" r="1.6"/><circle cx="313.2" cy="228.9" r="1.6"/><circle cx="314.1" cy="226.8" r="1.6"/><circle cx="314.9" cy="228" r="1.6"/><circle cx="315.7" cy="227.3" r="1.6"/><circle cx="316.6" cy="224" r="1.6"/><circle cx="317.4" cy="225.8" r="1.6"/><circle cx="318.2" cy="226.5" r="1.6"/><circle cx="319" cy="227.2" r="1.6"/><circle cx="319.8" cy="225" r="1.6"/><circle cx="320.6" cy="224.1" r="1.6"/><circle cx="321.4" cy="221.5" r="1.6"/><circle cx="322.2" cy="224.2" r="1.6"/><circle cx="323" cy="225.2" r="1.6"/><circle cx="323.8" cy="223.9" r="1.6"/><circle cx="324.6" cy="224.2" r="1.6"/><circle cx="325.3" cy="223.2" r="1.6"/><circle cx="326.1" cy="226.5" r="1.6"/><circle cx="326.9" cy="228.6" r="1.6"/><circle cx="327.6" cy="226.5" r="1.6"/><circle cx="328.4" cy="227.2" r="1.6"/><circle cx="329.1" cy="226.4" r="1.6"/><circle cx="329.8" cy="224.8" r="1.6"/><circle cx="330.6" cy="227.5" r="1.6"/><circle cx="331.3" cy="224.7" r="1.6"/><circle cx="332" cy="225.9" r="1.6"/><circle cx="332.7" cy="226.6" r="1.6"/><circle cx="333.4" cy="227.3" r="1.6"/><circle cx="334.2" cy="226.9" r="1.6"/><circle cx="334.9" cy="226.9" r="1.6"/><circle cx="335.6" cy="225.6" r="1.6"/><circle cx="336.3" cy="224.9" r="1.6"/><circle cx="336.9" cy="226.3" r="1.6"/><circle cx="337.6" cy="225.3" r="1.6"/><circle cx="338.3" cy="224.6" r="1.6"/><circle cx="339" cy="224.5" r="1.6"/><circle cx="339.7" cy="225.3" r="1.6"/><circle cx="340.3" cy="223.7" r="1.6"/><circle cx="341" cy="224.1" r="1.6"/><circle cx="341.7" cy="223.7" r="1.6"/><circle cx="342.3" cy="225.6" r="1.6"/><circle cx="343" cy="225.8" r="1.6"/><circle cx="343.6" cy="227.4" r="1.6"/><circle cx="344.3" cy="223.5" r="1.6"/><circle cx="344.9" cy="224.3" r="1.6"/><circle cx="345.6" cy="225.8" r="1.6"/><circle cx="346.2" cy="224.3" r="1.6"/><circle cx="346.8" cy="224" r="1.6"/><circle cx="347.4" cy="226" r="1.6"/><circle cx="348.1" cy="223.5" r="1.6"/><circle cx="348.7" cy="222.4" r="1.6"/><circle cx="349.3" cy="222" r="1.6"/><circle cx="349.9" cy="223.6" r="1.6"/><circle cx="350.5" cy="223.4" r="1.6"/><circle cx="351.1" cy="221.4" r="1.6"/><circle cx="351.7" cy="221.7" r="1.6"/><circle cx="352.3" cy="223.3" r="1.6"/><circle cx="352.9" cy="223.2" r="1.6"/><circle cx="353.5" cy="221.7" r="1.6"/><circle cx="354.1" cy="223" r="1.6"/><circle cx="354.7" cy="222.8" r="1.6"/><circle cx="355.3" cy="220.1" r="1.6"/><circle cx="355.9" cy="221.6" r="1.6"/><circle cx="356.5" cy="222.2" r="1.6"/><circle cx="357" cy="221" r="1.6"/><circle cx="357.6" cy="219.2" r="1.6"/><circle cx="358.2" cy="221.1" r="1.6"/><circle cx="358.7" cy="222.1" r="1.6"/><circle cx="359.3" cy="222.9" r="1.6"/><circle cx="359.9" cy="218.6" r="1.6"/><circle cx="360.4" cy="223.8" r="1.6"/><circle cx="361" cy="219.5" r="1.6"/><circle cx="361.5" cy="221.6" r="1.6"/><circle cx="362.1" cy="221.8" r="1.6"/><circle cx="362.6" cy="221.3" r="1.6"/><circle cx="363.2" cy="220.3" r="1.6"/><circle cx="363.7" cy="218.7" r="1.6"/><circle cx="364.3" cy="220.5" r="1.6"/><circle cx="364.8" cy="218.9" r="1.6"/><circle cx="365.3" cy="216.7" r="1.6"/><circle cx="365.9" cy="222.5" r="1.6"/><circle cx="366.4" cy="220" r="1.6"/><circle cx="366.9" cy="221.1" r="1.6"/><circle cx="367.4" cy="217.9" r="1.6"/><circle cx="368" cy="220.4" r="1.6"/><circle cx="368.5" cy="220.4" r="1.6"/><circle cx="369" cy="220.2" r="1.6"/><circle cx="369.5" cy="218.3" r="1.6"/><circle cx="370" cy="216.9" r="1.6"/><circle cx="370.5" cy="217.7" r="1.6"/><circle cx="371" cy="215.1" r="1.6"/><circle cx="371.5" cy="215.3" r="1.6"/><circle cx="372" cy="217" r="1.6"/><circle cx="373" cy="215.1" r="1.6"/><circle cx="374" cy="215.4" r="1.6"/><circle cx="375" cy="214.8" r="1.6"/><circle cx="376" cy="216.4" r="1.6"/><circle cx="376.9" cy="215.1" r="1.6"/><circle cx="377.9" cy="213" r="1.6"/><circle cx="378.8" cy="213.2" r="1.6"/><circle cx="379.8" cy="209.7" r="1.6"/><circle cx="380.7" cy="208.8" r="1.6"/><circle cx="381.6" cy="208.9" r="1.6"/><circle cx="382.5" cy="205.3" r="1.6"/><circle cx="383.5" cy="205.1" r="1.6"/><circle cx="384.3" cy="202.9" r="1.6"/><circle cx="387" cy="203.7" r="1.6"/><circle cx="387.7" cy="206.5" r="1.6"/><circle cx="388.3" cy="201.9" r="1.6"/><circle cx="389" cy="203.7" r="1.6"/><circle cx="389.6" cy="201.5" r="1.6"/><circle cx="390.2" cy="201" r="1.6"/><circle cx="390.9" cy="200.6" r="1.6"/><circle cx="391.5" cy="205.6" r="1.6"/><circle cx="392.1" cy="207.1" r="1.6"/><circle cx="392.8" cy="203.4" r="1.6"/><circle cx="393.4" cy="200.9" r="1.6"/><circle cx="394" cy="203.5" r="1.6"/><circle cx="394.6" cy="201.3" r="1.6"/><circle cx="395.2" cy="203.3" r="1.6"/><circle cx="395.8" cy="202.2" r="1.6"/><circle cx="396.4" cy="202" r="1.6"/><circle cx="397" cy="202.5" r="1.6"/><circle cx="397.6" cy="200" r="1.6"/><circle cx="398.2" cy="200.2" r="1.6"/><circle cx="398.8" cy="197.6" r="1.6"/><circle cx="399.4" cy="199.8" r="1.6"/><circle cx="400" cy="197.8" r="1.6"/><circle cx="400.6" cy="200.1" r="1.6"/><circle cx="401.1" cy="198.5" r="1.6"/><circle cx="401.7" cy="200.3" r="1.6"/><circle cx="402.3" cy="200.9" r="1.6"/><circle cx="402.9" cy="197.2" r="1.6"/><circle cx="403.4" cy="198.3" r="1.6"/><circle cx="404" cy="197.9" r="1.6"/><circle cx="404.6" cy="201" r="1.6"/><circle cx="405.1" cy="202.7" r="1.6"/><circle cx="405.7" cy="201" r="1.6"/><circle cx="406.2" cy="198.6" r="1.6"/><circle cx="406.8" cy="201.9" r="1.6"/><circle cx="407.3" cy="196.2" r="1.6"/><circle cx="407.9" cy="201.8" r="1.6"/><circle cx="408.4" cy="197.6" r="1.6"/><circle cx="408.9" cy="193.4" r="1.6"/><circle cx="409.5" cy="203.6" r="1.6"/><circle cx="410" cy="201.5" r="1.6"/><circle cx="410.5" cy="196.3" r="1.6"/><circle cx="411.1" cy="198.3" r="1.6"/><circle cx="411.6" cy="197.4" r="1.6"/><circle cx="412.1" cy="197.7" r="1.6"/><circle cx="412.6" cy="194.5" r="1.6"/><circle cx="413.2" cy="195.8" r="1.6"/><circle cx="413.7" cy="197.7" r="1.6"/><circle cx="414.2" cy="197" r="1.6"/><circle cx="414.7" cy="198.7" r="1.6"/><circle cx="415.2" cy="196.3" r="1.6"/><circle cx="415.7" cy="200.4" r="1.6"/><circle cx="416.2" cy="194.3" r="1.6"/><circle cx="416.7" cy="196" r="1.6"/><circle cx="417.4" cy="191.5" r="1.6"/><circle cx="418.1" cy="192.5" r="1.6"/><circle cx="418.7" cy="197.1" r="1.6"/><circle cx="419.4" cy="192.5" r="1.6"/><circle cx="420" cy="195" r="1.6"/><circle cx="420.7" cy="193.5" r="1.6"/><circle cx="421.3" cy="191.2" r="1.6"/><circle cx="421.9" cy="192.1" r="1.6"/><circle cx="422.6" cy="191.4" r="1.6"/><circle cx="423.2" cy="191.1" r="1.6"/><circle cx="423.8" cy="193" r="1.6"/><circle cx="424.5" cy="192.5" r="1.6"/><circle cx="425.1" cy="189.7" r="1.6"/><circle cx="425.7" cy="188.7" r="1.6"/><circle cx="426.3" cy="190.6" r="1.6"/><circle cx="426.9" cy="189.5" r="1.6"/><circle cx="427.5" cy="191.2" r="1.6"/><circle cx="428.1" cy="194" r="1.6"/><circle cx="428.7" cy="190.4" r="1.6"/><circle cx="429.3" cy="188.5" r="1.6"/><circle cx="429.9" cy="188" r="1.6"/><circle cx="430.5" cy="186.5" r="1.6"/></g>
<g fill="#ff00ff" fill-opacity="0.75"><path d="M118 32.6l2.1 2.1l-2.1 2.1l-2.1 -2.1z"/><path d="M141 56.9l2.1 2.1l-2.1 2.1l-2.1 -2.1z"/><path d="M170 129.2l2.1 2.1l-2.1 2.1l-2.1 -2.1z"/><path d="M195.6 106.2l2.1 2.1l-2.1 2.1l-2.1 -2.1z"/><path d="M218.4 136.8l2.1 2.1l-2.1 2.1l-2.1 -2.1z"/><path d="M237.4 154.7l2.1 2.1l-2.1 2.1l-2.1 -2.1z"/><path d="M253.4 128.8l2.1 2.1l-2.1 2.1l-2.1 -2.1z"/><path d="M267.6 130.2l2.1 2.1l-2.1 2.1l-2.1 -2.1z"/><path d="M279 140.8l2.1 2.1l-2.1 2.1l-2.1 -2.1z"/><path d="M297.4 143.8l2.1 2.1l-2.1 2.1l-2.1 -2.1z"/><path d="M320 127.8l2.1 2.1l-2.1 2.1l-2.1 -2.1z"/><path d="M338 125.8l2.1 2.1l-2.1 2.1l-2.1 -2.1z"/><path d="M354 111.8l2.1 2.1l-2.1 2.1l-2.1 -2.1z"/><path d="M368 113.6l2.1 2.1l-2.1 2.1l-2.1 -2.1z"/><path d="M380 95.4l2.1 2.1l-2.1 2.1l-2.1 -2.1z"/><path d="M391.4 76l2.1 2.1l-2.1 2.1l-2.1 -2.1z"/><path d="M401.2 91.8l2.1 2.1l-2.1 2.1l-2.1 -2.1z"/><path d="M410.3 84.2l2.1 2.1l-2.1 2.1l-2.1 -2.1z"/><path d="M419 73l2.1 2.1l-2.1 2.1l-2.1 -2.1z"/><path d="M427 71.4l2.1 2.1l-2.1 2.1l-2.1 -2.1z"/><path d="M434 70.8l2.1 2.1l-2.1 2.1l-2.1 -2.1z"/><path d="M440.8 66l2.1 2.1l-2.1 2.1l-2.1 -2.1z"/><path d="M447.5 61.1l2.1 2.1l-2.1 2.1l-2.1 -2.1z"/><path d="M453.5 53.1l2.1 2.1l-2.1 2.1l-2.1 -2.1z"/><path d="M459.7 45.6l2.1 2.1l-2.1 2.1l-2.1 -2.1z"/><path d="M467.5 25.4l2.1 2.1l-2.1 2.1l-2.1 -2.1z"/><path d="M477.3 26.8l2.1 2.1l-2.1 2.1l-2.1 -2.1z"/><path d="M486.9 8.5l2.1 2.1l-2.1 2.1l-2.1 -2.1z"/><path d="M495.6 14.7l2.1 2.1l-2.1 2.1l-2.1 -2.1z"/></g>
<g fill="#008000" fill-opacity="0.75"><path d="M47.7 31.5h2.6v2.6h-2.6z"/><path d="M56.9 54.7h2.6v2.6h-2.6z"/><path d="M65.3 62.7h2.6v2.6h-2.6z"/><path d="M73.3 89.3h2.6v2.6h-2.6z"/><path d="M80.5 101.7h2.6v2.6h-2.6z"/><path d="M87.3 114.1h2.6v2.6h-2.6z"/><path d="M93.9 126.9h2.6v2.6h-2.6z"/><path d="M100 135.3h2.6v2.6h-2.6z"/><path d="M105.9 142.2h2.6v2.6h-2.6z"/><path d="M111.4 149.1h2.6v2.6h-2.6z"/><path d="M116.7 157.3h2.6v2.6h-2.6z"/><path d="M121.7 158.9h2.6v2.6h-2.6z"/><path d="M126.3 161.3h2.6v2.6h-2.6z"/><path d="M131 164.7h2.6v2.6h-2.6z"/><path d="M135.3 177.1h2.6v2.6h-2.6z"/><path d="M139.7 175.2h2.6v2.6h-2.6z"/><path d="M144 182.9h2.6v2.6h-2.6z"/><path d="M147.8 161h2.6v2.6h-2.6z"/><path d="M151.4 137.4h2.6v2.6h-2.6z"/><path d="M155.4 189.8h2.6v2.6h-2.6z"/><path d="M158.7 199.9h2.6v2.6h-2.6z"/><path d="M162 203.2h2.6v2.6h-2.6z"/><path d="M165.3 203.7h2.6v2.6h-2.6z"/><path d="M168.2 204.5h2.6v2.6h-2.6z"/><path d="M171 205.7h2.6v2.6h-2.6z"/><path d="M173.7 207.2h2.6v2.6h-2.6z"/><path d="M176.7 208.7h2.6v2.6h-2.6z"/><path d="M179.5 210.1h2.6v2.6h-2.6z"/><path d="M182.4 210.7h2.6v2.6h-2.6z"/><path d="M185.3 211.4h2.6v2.6h-2.6z"/><path d="M188.2 212h2.6v2.6h-2.6z"/><path d="M191.1 213h2.6v2.6h-2.6z"/><path d="M194.4 207.2h2.6v2.6h-2.6z"/><path d="M196.3 214.7h2.6v2.6h-2.6z"/><path d="M199.2 215.9h2.6v2.6h-2.6z"/><path d="M201.7 216.4h2.6v2.6h-2.6z"/><path d="M204.6 213.9h2.6v2.6h-2.6z"/><path d="M206.5 218.4h2.6v2.6h-2.6z"/><path d="M209.4 219.1h2.6v2.6h-2.6z"/><path d="M212.3 219.7h2.6v2.6h-2.6z"/><path d="M215.2 218.4h2.6v2.6h-2.6z"/><path d="M218.1 219.1h2.6v2.6h-2.6z"/><path d="M221 220.7h2.6v2.6h-2.6z"/><path d="M223.9 221.7h2.6v2.6h-2.6z"/><path d="M226.6 217h2.6v2.6h-2.6z"/><path d="M328.1 207.1h2.6v2.6h-2.6z"/><path d="M362.9 203.9h2.6v2.6h-2.6z"/><path d="M369 185.4h2.6v2.6h-2.6z"/><path d="M384.7 150.9h2.6v2.6h-2.6z"/><path d="M384.7 180.8h2.6v2.6h-2.6z"/><path d="M383.7 184h2.6v2.6h-2.6z"/><path d="M386.8 136.1h2.6v2.6h-2.6z"/><path d="M386.8 142.6h2.6v2.6h-2.6z"/><path d="M387.7 186.5h2.6v2.6h-2.6z"/><path d="M396.3 186.1h2.6v2.6h-2.6z"/><path d="M415.3 180.8h2.6v2.6h-2.6z"/><path d="M463.1 116.2h2.6v2.6h-2.6z"/><path d="M463.7 121.1h2.6v2.6h-2.6z"/><path d="M462.2 124.2h2.6v2.6h-2.6z"/><path d="M454.7 122.5h2.6v2.6h-2.6z"/><path d="M461.6 140h2.6v2.6h-2.6z"/><path d="M460.5 145.3h2.6v2.6h-2.6z"/><path d="M461.6 148.4h2.6v2.6h-2.6z"/><path d="M458.9 152.7h2.6v2.6h-2.6z"/><path d="M457.4 156.9h2.6v2.6h-2.6z"/><path d="M462.8 92.4h2.6v2.6h-2.6z"/><path d="M463.3 116.4h2.6v2.6h-2.6z"/><path d="M463.3 120.6h2.6v2.6h-2.6z"/><path d="M462 123.8h2.6v2.6h-2.6z"/><path d="M486.6 109.6h2.6v2.6h-2.6z"/><path d="M480.3 139.7h2.6v2.6h-2.6z"/><path d="M441.9 165h2.6v2.6h-2.6z"/><path d="M444 165h2.6v2.6h-2.6z"/><path d="M441.9 167.1h2.6v2.6h-2.6z"/><path d="M444 168.2h2.6v2.6h-2.6z"/><path d="M442.7 162.7h2.6v2.6h-2.6z"/><path d="M504.1 33.2h2.6v2.6h-2.6z"/><path d="M505.2 47h2.6v2.6h-2.6z"/><path d="M505.2 56.3h2.6v2.6h-2.6z"/><path d="M505.5 74.5h2.6v2.6h-2.6z"/><path d="M511 84.9h2.6v2.6h-2.6z"/><path d="M506.7 96.7h2.6v2.6h-2.6z"/><path d="M509.5 95.4h2.6v2.6h-2.6z"/><path d="M508.4 103h2.6v2.6h-2.6z"/><path d="M516.9 101.3h2.6v2.6h-2.6z"/><path d="M526.3 96.1h2.6v2.6h-2.6z"/><path d="M503.7 107.1h2.6v2.6h-2.6z"/><path d="M507.7 108.2h2.6v2.6h-2.6z"/><path d="M508.7 102.9h2.6v2.6h-2.6z"/><path d="M535 52.6h2.6v2.6h-2.6z"/><path d="M535.7 53.5h2.6v2.6h-2.6z"/><path d="M536.4 63.3h2.6v2.6h-2.6z"/><path d="M535 72.3h2.6v2.6h-2.6z"/><path d="M534.7 69.7h2.6v2.6h-2.6z"/><path d="M535.4 72.9h2.6v2.6h-2.6z"/><path d="M531.6 82.4h2.6v2.6h-2.6z"/><path d="M511.1 85.4h2.6v2.6h-2.6z"/><path d="M525.6 96.2h2.6v2.6h-2.6z"/><path d="M509 95.4h2.6v2.6h-2.6z"/><path d="M507.2 96.2h2.6v2.6h-2.6z"/><path d="M229.4 221.3h2.6v2.6h-2.6z"/><path d="M231.2 221.5h2.6v2.6h-2.6z"/><path d="M232.9 222.1h2.6v2.6h-2.6z"/><path d="M234.7 222.4h2.6v2.6h-2.6z"/><path d="M236.4 223.4h2.6v2.6h-2.6z"/><path d="M238.1 222.8h2.6v2.6h-2.6z"/><path d="M239.7 223.1h2.6v2.6h-2.6z"/><path d="M241.3 222.5h2.6v2.6h-2.6z"/><path d="M243 224.7h2.6v2.6h-2.6z"/><path d="M244.5 224h2.6v2.6h-2.6z"/><path d="M246.1 225h2.6v2.6h-2.6z"/><path d="M247.6 224.4h2.6v2.6h-2.6z"/><path d="M249.2 225h2.6v2.6h-2.6z"/><path d="M250.7 223.9h2.6v2.6h-2.6z"/><path d="M252.1 224.7h2.6v2.6h-2.6z"/><path d="M253.6 226.2h2.6v2.6h-2.6z"/><path d="M255 223.6h2.6v2.6h-2.6z"/><path d="M256.5 225.4h2.6v2.6h-2.6z"/><path d="M257.9 225.8h2.6v2.6h-2.6z"/><path d="M259.3 225h2.6v2.6h-2.6z"/><path d="M260.6 225.3h2.6v2.6h-2.6z"/><path d="M262 225.7h2.6v2.6h-2.6z"/><path d="M263.3 224.3h2.6v2.6h-2.6z"/><path d="M264.6 225.1h2.6v2.6h-2.6z"/><path d="M265.9 224.3h2.6v2.6h-2.6z"/><path d="M267.2 224.4h2.6v2.6h-2.6z"/><path d="M268.5 224.5h2.6v2.6h-2.6z"/><path d="M269.8 224.9h2.6v2.6h-2.6z"/><path d="M271 225.1h2.6v2.6h-2.6z"/><path d="M272.2 225.4h2.6v2.6h-2.6z"/><path d="M273.5 224.1h2.6v2.6h-2.6z"/><path d="M274.7 226.5h2.6v2.6h-2.6z"/><path d="M275.9 226h2.6v2.6h-2.6z"/><path d="M277 225.7h2.6v2.6h-2.6z"/><path d="M278.2 224.9h2.6v2.6h-2.6z"/><path d="M279.4 225.1h2.6v2.6h-2.6z"/><path d="M280.5 225.5h2.6v2.6h-2.6z"/><path d="M281.6 225.4h2.6v2.6h-2.6z"/><path d="M282.7 223.8h2.6v2.6h-2.6z"/><path d="M283.8 225.5h2.6v2.6h-2.6z"/><path d="M284.9 227h2.6v2.6h-2.6z"/><path d="M286 223.5h2.6v2.6h-2.6z"/><path d="M287.1 225.5h2.6v2.6h-2.6z"/><path d="M288.2 225h2.6v2.6h-2.6z"/><path d="M289.2 224.6h2.6v2.6h-2.6z"/><path d="M290.3 225.7h2.6v2.6h-2.6z"/><path d="M291.3 223.8h2.6v2.6h-2.6z"/><path d="M292.3 224.7h2.6v2.6h-2.6z"/><path d="M293.3 225.6h2.6v2.6h-2.6z"/><path d="M294.4 224.4h2.6v2.6h-2.6z"/><path d="M295.4 224.2h2.6v2.6h-2.6z"/><path d="M296.3 224.5h2.6v2.6h-2.6z"/><path d="M297.3 224h2.6v2.6h-2.6z"/><path d="M298.3 225.4h2.6v2.6h-2.6z"/><path d="M299.3 223.6h2.6v2.6h-2.6z"/><path d="M300.2 224.8h2.6v2.6h-2.6z"/><path d="M301.2 223.2h2.6v2.6h-2.6z"/><path d="M302.1 224.6h2.6v2.6h-2.6z"/><path d="M303 223.9h2.6v2.6h-2.6z"/><path d="M303.9 222.1h2.6v2.6h-2.6z"/><path d="M304.9 223.9h2.6v2.6h-2.6z"/><path d="M305.8 223.1h2.6v2.6h-2.6z"/><path d="M306.7 223.5h2.6v2.6h-2.6z"/><path d="M307.6 224.8h2.6v2.6h-2.6z"/><path d="M308.4 222.9h2.6v2.6h-2.6z"/><path d="M309.3 222.8h2.6v2.6h-2.6z"/><path d="M310.2 224.6h2.6v2.6h-2.6z"/><path d="M311.1 223.6h2.6v2.6h-2.6z"/><path d="M311.9 224.6h2.6v2.6h-2.6z"/><path d="M312.8 223.6h2.6v2.6h-2.6z"/><path d="M313.6 222.7h2.6v2.6h-2.6z"/><path d="M314.4 223.2h2.6v2.6h-2.6z"/><path d="M315.3 224.1h2.6v2.6h-2.6z"/><path d="M316.1 223.8h2.6v2.6h-2.6z"/><path d="M316.9 223.1h2.6v2.6h-2.6z"/><path d="M317.7 223.1h2.6v2.6h-2.6z"/><path d="M318.5 222.9h2.6v2.6h-2.6z"/><path d="M319.3 222.5h2.6v2.6h-2.6z"/><path d="M320.1 224.3h2.6v2.6h-2.6z"/><path d="M320.9 222.9h2.6v2.6h-2.6z"/><path d="M321.7 222h2.6v2.6h-2.6z"/><path d="M322.5 222.4h2.6v2.6h-2.6z"/><path d="M323.3 223.2h2.6v2.6h-2.6z"/><path d="M324 223.1h2.6v2.6h-2.6z"/><path d="M324.8 222.5h2.6v2.6h-2.6z"/><path d="M325.6 222.1h2.6v2.6h-2.6z"/><path d="M326.3 222.6h2.6v2.6h-2.6z"/><path d="M327.1 221.3h2.6v2.6h-2.6z"/><path d="M327.8 221.5h2.6v2.6h-2.6z"/><path d="M328.5 223h2.6v2.6h-2.6z"/><path d="M329.3 221.9h2.6v2.6h-2.6z"/><path d="M330 222.4h2.6v2.6h-2.6z"/><path d="M330.7 222.9h2.6v2.6h-2.6z"/><path d="M331.4 222.3h2.6v2.6h-2.6z"/><path d="M332.1 221.7h2.6v2.6h-2.6z"/><path d="M332.9 223.1h2.6v2.6h-2.6z"/><path d="M333.6 221.9h2.6v2.6h-2.6z"/><path d="M334.3 221h2.6v2.6h-2.6z"/><path d="M335 221.7h2.6v2.6h-2.6z"/><path d="M335.6 221.3h2.6v2.6h-2.6z"/><path d="M336.3 220.3h2.6v2.6h-2.6z"/><path d="M337 220.8h2.6v2.6h-2.6z"/><path d="M337.7 220.5h2.6v2.6h-2.6z"/><path d="M338.4 219.1h2.6v2.6h-2.6z"/><path d="M339 220.2h2.6v2.6h-2.6z"/><path d="M339.7 220h2.6v2.6h-2.6z"/><path d="M340.4 219.8h2.6v2.6h-2.6z"/><path d="M341 218.8h2.6v2.6h-2.6z"/><path d="M341.7 219.5h2.6v2.6h-2.6z"/><path d="M342.3 219.6h2.6v2.6h-2.6z"/><path d="M343 219.6h2.6v2.6h-2.6z"/><path d="M343.6 218.6h2.6v2.6h-2.6z"/><path d="M344.3 219.7h2.6v2.6h-2.6z"/><path d="M344.9 218.3h2.6v2.6h-2.6z"/><path d="M345.5 218.9h2.6v2.6h-2.6z"/><path d="M346.1 219.8h2.6v2.6h-2.6z"/><path d="M346.8 218.3h2.6v2.6h-2.6z"/><path d="M347.4 218.3h2.6v2.6h-2.6z"/><path d="M348 219.3h2.6v2.6h-2.6z"/><path d="M348.6 218.1h2.6v2.6h-2.6z"/><path d="M349.2 218.1h2.6v2.6h-2.6z"/><path d="M349.8 218.3h2.6v2.6h-2.6z"/><path d="M350.4 218.7h2.6v2.6h-2.6z"/><path d="M351 216.2h2.6v2.6h-2.6z"/><path d="M351.6 217.1h2.6v2.6h-2.6z"/><path d="M352.2 216.8h2.6v2.6h-2.6z"/><path d="M352.8 216.6h2.6v2.6h-2.6z"/><path d="M353.4 216.6h2.6v2.6h-2.6z"/><path d="M354 216.5h2.6v2.6h-2.6z"/><path d="M354.6 217.1h2.6v2.6h-2.6z"/><path d="M355.2 216.1h2.6v2.6h-2.6z"/><path d="M355.7 216.7h2.6v2.6h-2.6z"/><path d="M356.3 216.8h2.6v2.6h-2.6z"/><path d="M356.9 215.8h2.6v2.6h-2.6z"/><path d="M357.4 216.3h2.6v2.6h-2.6z"/><path d="M358 217.2h2.6v2.6h-2.6z"/><path d="M358.6 216.2h2.6v2.6h-2.6z"/><path d="M359.1 215.3h2.6v2.6h-2.6z"/><path d="M359.7 215.6h2.6v2.6h-2.6z"/><path d="M360.2 214.8h2.6v2.6h-2.6z"/><path d="M360.8 215.5h2.6v2.6h-2.6z"/><path d="M361.3 215.8h2.6v2.6h-2.6z"/><path d="M361.9 214.4h2.6v2.6h-2.6z"/><path d="M362.4 214.7h2.6v2.6h-2.6z"/><path d="M363 215.5h2.6v2.6h-2.6z"/><path d="M363.5 214.2h2.6v2.6h-2.6z"/><path d="M364 214.5h2.6v2.6h-2.6z"/><path d="M364.6 213.5h2.6v2.6h-2.6z"/><path d="M365.1 213.5h2.6v2.6h-2.6z"/><path d="M365.6 213.6h2.6v2.6h-2.6z"/><path d="M366.1 215.3h2.6v2.6h-2.6z"/><path d="M366.7 213.4h2.6v2.6h-2.6z"/><path d="M367.2 213.2h2.6v2.6h-2.6z"/><path d="M367.7 213h2.6v2.6h-2.6z"/><path d="M368.2 213.1h2.6v2.6h-2.6z"/><path d="M368.7 213.6h2.6v2.6h-2.6z"/><path d="M369.2 213h2.6v2.6h-2.6z"/><path d="M369.7 214h2.6v2.6h-2.6z"/><path d="M370.2 212.5h2.6v2.6h-2.6z"/><path d="M370.7 213.1h2.6v2.6h-2.6z"/><path d="M371.2 212.1h2.6v2.6h-2.6z"/><path d="M371.7 212.1h2.6v2.6h-2.6z"/><path d="M372.2 210.4h2.6v2.6h-2.6z"/><path d="M372.7 211.1h2.6v2.6h-2.6z"/><path d="M373.2 210.9h2.6v2.6h-2.6z"/><path d="M373.7 210.5h2.6v2.6h-2.6z"/><path d="M374.2 208.9h2.6v2.6h-2.6z"/><path d="M374.7 210.8h2.6v2.6h-2.6z"/><path d="M375.2 209.7h2.6v2.6h-2.6z"/><path d="M375.6 209.5h2.6v2.6h-2.6z"/><path d="M376.1 209.4h2.6v2.6h-2.6z"/><path d="M376.6 209.2h2.6v2.6h-2.6z"/><path d="M377.1 209.4h2.6v2.6h-2.6z"/><path d="M377.5 208h2.6v2.6h-2.6z"/><path d="M378 208.1h2.6v2.6h-2.6z"/><path d="M378.5 208.7h2.6v2.6h-2.6z"/><path d="M378.9 208.4h2.6v2.6h-2.6z"/><path d="M379.9 193.4h2.6v2.6h-2.6z"/><path d="M380.3 193.2h2.6v2.6h-2.6z"/><path d="M380.8 193h2.6v2.6h-2.6z"/><path d="M381.2 193.5h2.6v2.6h-2.6z"/><path d="M381.7 194.3h2.6v2.6h-2.6z"/><path d="M382.2 192.7h2.6v2.6h-2.6z"/><path d="M382.6 194.5h2.6v2.6h-2.6z"/><path d="M383.5 193.9h2.6v2.6h-2.6z"/><path d="M384.4 193h2.6v2.6h-2.6z"/><path d="M385.3 193.7h2.6v2.6h-2.6z"/><path d="M386.1 191.9h2.6v2.6h-2.6z"/><path d="M387 191.4h2.6v2.6h-2.6z"/><path d="M387.9 191.5h2.6v2.6h-2.6z"/><path d="M388.7 191.8h2.6v2.6h-2.6z"/><path d="M389.6 191.7h2.6v2.6h-2.6z"/><path d="M390.4 191.3h2.6v2.6h-2.6z"/><path d="M391.2 191.6h2.6v2.6h-2.6z"/><path d="M392.1 189.8h2.6v2.6h-2.6z"/><path d="M392.9 191.4h2.6v2.6h-2.6z"/><path d="M393.7 189.9h2.6v2.6h-2.6z"/><path d="M394.5 190.2h2.6v2.6h-2.6z"/><path d="M395.3 190.2h2.6v2.6h-2.6z"/><path d="M396.1 189.5h2.6v2.6h-2.6z"/><path d="M396.9 189.2h2.6v2.6h-2.6z"/><path d="M397.7 189.2h2.6v2.6h-2.6z"/><path d="M398.5 189.7h2.6v2.6h-2.6z"/><path d="M399.3 190h2.6v2.6h-2.6z"/><path d="M400 189.7h2.6v2.6h-2.6z"/><path d="M400.8 188.5h2.6v2.6h-2.6z"/><path d="M401.6 188.4h2.6v2.6h-2.6z"/><path d="M402.3 188.1h2.6v2.6h-2.6z"/><path d="M403.1 188.9h2.6v2.6h-2.6z"/><path d="M403.8 186.9h2.6v2.6h-2.6z"/><path d="M404.6 189h2.6v2.6h-2.6z"/><path d="M405.3 187.6h2.6v2.6h-2.6z"/><path d="M406 187.2h2.6v2.6h-2.6z"/><path d="M406.7 187.8h2.6v2.6h-2.6z"/><path d="M407.5 188.1h2.6v2.6h-2.6z"/><path d="M408.2 187.5h2.6v2.6h-2.6z"/><path d="M408.9 187.7h2.6v2.6h-2.6z"/><path d="M409.6 186.8h2.6v2.6h-2.6z"/><path d="M410.3 187.2h2.6v2.6h-2.6z"/><path d="M411 186.8h2.6v2.6h-2.6z"/><path d="M411.7 185.6h2.6v2.6h-2.6z"/><path d="M412.4 186.3h2.6v2.6h-2.6z"/><path d="M413.1 185.1h2.6v2.6h-2.6z"/><path d="M413.7 184.7h2.6v2.6h-2.6z"/><path d="M414.4 183.7h2.6v2.6h-2.6z"/><path d="M415.1 183.8h2.6v2.6h-2.6z"/><path d="M415.8 184.2h2.6v2.6h-2.6z"/><path d="M416.4 182.4h2.6v2.6h-2.6z"/><path d="M417.1 183.4h2.6v2.6h-2.6z"/><path d="M417.7 182.9h2.6v2.6h-2.6z"/><path d="M418.4 182.5h2.6v2.6h-2.6z"/><path d="M419 180.5h2.6v2.6h-2.6z"/><path d="M419.7 181.7h2.6v2.6h-2.6z"/><path d="M420.3 181.9h2.6v2.6h-2.6z"/><path d="M421 180.6h2.6v2.6h-2.6z"/><path d="M421.6 180.9h2.6v2.6h-2.6z"/><path d="M422.2 178.8h2.6v2.6h-2.6z"/><path d="M422.8 180.7h2.6v2.6h-2.6z"/><path d="M423.5 179.4h2.6v2.6h-2.6z"/><path d="M424.1 180.2h2.6v2.6h-2.6z"/><path d="M424.7 178h2.6v2.6h-2.6z"/><path d="M425.3 179.5h2.6v2.6h-2.6z"/><path d="M425.9 178.6h2.6v2.6h-2.6z"/><path d="M426.5 179h2.6v2.6h-2.6z"/><path d="M427.1 177.5h2.6v2.6h-2.6z"/><path d="M427.7 177.4h2.6v2.6h-2.6z"/><path d="M428.3 179.1h2.6v2.6h-2.6z"/><path d="M428.9 176.7h2.6v2.6h-2.6z"/><path d="M429.5 176.5h2.6v2.6h-2.6z"/><path d="M430.1 176.5h2.6v2.6h-2.6z"/><path d="M430.7 175.7h2.6v2.6h-2.6z"/><path d="M431.3 177h2.6v2.6h-2.6z"/><path d="M431.8 177.1h2.6v2.6h-2.6z"/><path d="M432.4 175.1h2.6v2.6h-2.6z"/><path d="M433 174.1h2.6v2.6h-2.6z"/><path d="M433.5 175.9h2.6v2.6h-2.6z"/><path d="M434.1 175.6h2.6v2.6h-2.6z"/><path d="M434.7 175.1h2.6v2.6h-2.6z"/><path d="M435.2 175.1h2.6v2.6h-2.6z"/><path d="M435.8 173.4h2.6v2.6h-2.6z"/><path d="M436.3 173.6h2.6v2.6h-2.6z"/><path d="M436.9 172.5h2.6v2.6h-2.6z"/><path d="M437.4 172.2h2.6v2.6h-2.6z"/><path d="M438 173.6h2.6v2.6h-2.6z"/><path d="M438.5 172.2h2.6v2.6h-2.6z"/><path d="M439.1 174h2.6v2.6h-2.6z"/><path d="M439.6 172.3h2.6v2.6h-2.6z"/><path d="M440.1 171.5h2.6v2.6h-2.6z"/><path d="M440.7 172.3h2.6v2.6h-2.6z"/><path d="M441.2 172.8h2.6v2.6h-2.6z"/><path d="M441.7 171.6h2.6v2.6h-2.6z"/><path d="M442.3 170.2h2.6v2.6h-2.6z"/><path d="M442.8 171.1h2.6v2.6h-2.6z"/><path d="M443.3 171.5h2.6v2.6h-2.6z"/><path d="M443.8 170h2.6v2.6h-2.6z"/><path d="M444.3 169.6h2.6v2.6h-2.6z"/><path d="M444.8 170.6h2.6v2.6h-2.6z"/><path d="M445.4 169.8h2.6v2.6h-2.6z"/><path d="M445.9 168.7h2.6v2.6h-2.6z"/><path d="M446.4 169h2.6v2.6h-2.6z"/><path d="M446.9 168.5h2.6v2.6h-2.6z"/><path d="M447.4 169h2.6v2.6h-2.6z"/><path d="M447.9 168.6h2.6v2.6h-2.6z"/><path d="M448.4 169.1h2.6v2.6h-2.6z"/><path d="M448.9 168.6h2.6v2.6h-2.6z"/><path d="M449.4 166.8h2.6v2.6h-2.6z"/><path d="M449.8 167.9h2.6v2.6h-2.6z"/><path d="M450.3 168h2.6v2.6h-2.6z"/><path d="M450.8 167.5h2.6v2.6h-2.6z"/><path d="M451.3 167.6h2.6v2.6h-2.6z"/><path d="M451.8 166.3h2.6v2.6h-2.6z"/><path d="M452.3 165.8h2.6v2.6h-2.6z"/><path d="M452.7 166.8h2.6v2.6h-2.6z"/><path d="M453.2 165.2h2.6v2.6h-2.6z"/><path d="M453.7 164.2h2.6v2.6h-2.6z"/><path d="M454.2 166.2h2.6v2.6h-2.6z"/><path d="M454.6 164.7h2.6v2.6h-2.6z"/><path d="M455.1 164.7h2.6v2.6h-2.6z"/><path d="M455.6 163.7h2.6v2.6h-2.6z"/><path d="M456 163.5h2.6v2.6h-2.6z"/><path d="M456.5 163.4h2.6v2.6h-2.6z"/><path d="M456.9 163.7h2.6v2.6h-2.6z"/><path d="M457.4 164h2.6v2.6h-2.6z"/><path d="M457.9 161.8h2.6v2.6h-2.6z"/><path d="M458.3 163.7h2.6v2.6h-2.6z"/><path d="M504.2 115.8h2.6v2.6h-2.6z"/><path d="M504.4 115.8h2.6v2.6h-2.6z"/><path d="M504.5 117.8h2.6v2.6h-2.6z"/><path d="M504.7 116.7h2.6v2.6h-2.6z"/><path d="M504.8 114.9h2.6v2.6h-2.6z"/><path d="M505 118.8h2.6v2.6h-2.6z"/><path d="M505.1 115.4h2.6v2.6h-2.6z"/><path d="M505.3 116.7h2.6v2.6h-2.6z"/><path d="M505.4 116.5h2.6v2.6h-2.6z"/><path d="M505.6 117.8h2.6v2.6h-2.6z"/><path d="M505.7 115.5h2.6v2.6h-2.6z"/><path d="M505.9 117.1h2.6v2.6h-2.6z"/><path d="M506 114.9h2.6v2.6h-2.6z"/><path d="M506.2 117h2.6v2.6h-2.6z"/><path d="M506.3 114.7h2.6v2.6h-2.6z"/><path d="M506.4 115h2.6v2.6h-2.6z"/><path d="M506.6 117.6h2.6v2.6h-2.6z"/><path d="M506.7 115.6h2.6v2.6h-2.6z"/><path d="M506.9 115.2h2.6v2.6h-2.6z"/><path d="M507 117.7h2.6v2.6h-2.6z"/><path d="M507.2 115.3h2.6v2.6h-2.6z"/><path d="M507.3 113.8h2.6v2.6h-2.6z"/><path d="M507.5 115.5h2.6v2.6h-2.6z"/><path d="M507.6 113.1h2.6v2.6h-2.6z"/><path d="M507.8 115.8h2.6v2.6h-2.6z"/><path d="M507.9 115.8h2.6v2.6h-2.6z"/><path d="M508 113.5h2.6v2.6h-2.6z"/><path d="M508.2 113.3h2.6v2.6h-2.6z"/><path d="M508.3 114.2h2.6v2.6h-2.6z"/><path d="M508.5 113.9h2.6v2.6h-2.6z"/><path d="M508.6 112.6h2.6v2.6h-2.6z"/><path d="M508.8 114.3h2.6v2.6h-2.6z"/><path d="M508.9 111.1h2.6v2.6h-2.6z"/><path d="M509 113h2.6v2.6h-2.6z"/><path d="M509.2 112.9h2.6v2.6h-2.6z"/><path d="M509.3 113h2.6v2.6h-2.6z"/><path d="M509.5 113.6h2.6v2.6h-2.6z"/><path d="M509.6 111.7h2.6v2.6h-2.6z"/><path d="M509.8 113.8h2.6v2.6h-2.6z"/><path d="M509.9 112.8h2.6v2.6h-2.6z"/><path d="M510 112.1h2.6v2.6h-2.6z"/><path d="M510.2 111.2h2.6v2.6h-2.6z"/><path d="M510.3 111.3h2.6v2.6h-2.6z"/><path d="M510.5 113.1h2.6v2.6h-2.6z"/><path d="M510.6 111.4h2.6v2.6h-2.6z"/><path d="M510.7 112.5h2.6v2.6h-2.6z"/><path d="M510.9 113.7h2.6v2.6h-2.6z"/><path d="M511 113.5h2.6v2.6h-2.6z"/><path d="M511.2 114.1h2.6v2.6h-2.6z"/><path d="M511.3 111.8h2.6v2.6h-2.6z"/><path d="M511.4 110.7h2.6v2.6h-2.6z"/><path d="M511.6 113.2h2.6v2.6h-2.6z"/><path d="M511.7 112.3h2.6v2.6h-2.6z"/><path d="M511.9 113.1h2.6v2.6h-2.6z"/><path d="M512 111.7h2.6v2.6h-2.6z"/><path d="M512.1 113.1h2.6v2.6h-2.6z"/><path d="M512.3 112.6h2.6v2.6h-2.6z"/><path d="M512.4 112.3h2.6v2.6h-2.6z"/><path d="M512.6 112h2.6v2.6h-2.6z"/><path d="M512.7 111.8h2.6v2.6h-2.6z"/><path d="M512.8 111.5h2.6v2.6h-2.6z"/><path d="M513 111.4h2.6v2.6h-2.6z"/><path d="M513.1 112.2h2.6v2.6h-2.6z"/><path d="M513.2 110.4h2.6v2.6h-2.6z"/><path d="M513.4 113h2.6v2.6h-2.6z"/><path d="M513.5 110.7h2.6v2.6h-2.6z"/><path d="M513.7 111.9h2.6v2.6h-2.6z"/><path d="M513.8 110.5h2.6v2.6h-2.6z"/><path d="M513.9 110.3h2.6v2.6h-2.6z"/><path d="M514.1 112.9h2.6v2.6h-2.6z"/><path d="M514.2 110h2.6v2.6h-2.6z"/><path d="M514.3 108.8h2.6v2.6h-2.6z"/><path d="M514.5 109.4h2.6v2.6h-2.6z"/><path d="M514.6 109.8h2.6v2.6h-2.6z"/><path d="M514.8 112.7h2.6v2.6h-2.6z"/><path d="M514.9 110.2h2.6v2.6h-2.6z"/><path d="M515 111h2.6v2.6h-2.6z"/><path d="M515.2 108.6h2.6v2.6h-2.6z"/><path d="M515.3 110.2h2.6v2.6h-2.6z"/><path d="M515.4 110.5h2.6v2.6h-2.6z"/><path d="M515.6 111.7h2.6v2.6h-2.6z"/><path d="M515.7 108.7h2.6v2.6h-2.6z"/><path d="M515.8 110.1h2.6v2.6h-2.6z"/><path d="M516 109.7h2.6v2.6h-2.6z"/><path d="M516.1 108h2.6v2.6h-2.6z"/><path d="M516.2 109.2h2.6v2.6h-2.6z"/><path d="M516.4 108.8h2.6v2.6h-2.6z"/><path d="M516.5 106.2h2.6v2.6h-2.6z"/><path d="M516.6 109.7h2.6v2.6h-2.6z"/><path d="M516.8 109.5h2.6v2.6h-2.6z"/><path d="M516.9 108.3h2.6v2.6h-2.6z"/><path d="M517 107.1h2.6v2.6h-2.6z"/><path d="M517.2 110.4h2.6v2.6h-2.6z"/><path d="M517.3 108.9h2.6v2.6h-2.6z"/><path d="M517.4 109.7h2.6v2.6h-2.6z"/><path d="M517.6 110.1h2.6v2.6h-2.6z"/><path d="M517.7 107.7h2.6v2.6h-2.6z"/><path d="M517.8 109.2h2.6v2.6h-2.6z"/><path d="M518 107.9h2.6v2.6h-2.6z"/><path d="M518.1 108h2.6v2.6h-2.6z"/><path d="M518.2 107.9h2.6v2.6h-2.6z"/><path d="M518.4 107.9h2.6v2.6h-2.6z"/><path d="M518.5 109.2h2.6v2.6h-2.6z"/><path d="M518.6 107.9h2.6v2.6h-2.6z"/><path d="M518.7 107.5h2.6v2.6h-2.6z"/><path d="M518.9 107.3h2.6v2.6h-2.6z"/><path d="M519 107.9h2.6v2.6h-2.6z"/><path d="M519.1 106.4h2.6v2.6h-2.6z"/><path d="M519.3 106.8h2.6v2.6h-2.6z"/><path d="M519.4 107.2h2.6v2.6h-2.6z"/><path d="M519.6 106.5h2.6v2.6h-2.6z"/><path d="M519.7 107h2.6v2.6h-2.6z"/><path d="M519.9 106.3h2.6v2.6h-2.6z"/><path d="M520 109.4h2.6v2.6h-2.6z"/><path d="M520.2 108.5h2.6v2.6h-2.6z"/><path d="M520.4 107.3h2.6v2.6h-2.6z"/><path d="M520.5 106.6h2.6v2.6h-2.6z"/><path d="M520.7 109.2h2.6v2.6h-2.6z"/><path d="M520.9 106.9h2.6v2.6h-2.6z"/><path d="M521 106.3h2.6v2.6h-2.6z"/><path d="M521.2 106.7h2.6v2.6h-2.6z"/><path d="M521.3 106.6h2.6v2.6h-2.6z"/><path d="M521.5 107.8h2.6v2.6h-2.6z"/><path d="M521.6 106h2.6v2.6h-2.6z"/><path d="M521.8 108.5h2.6v2.6h-2.6z"/><path d="M522 104.8h2.6v2.6h-2.6z"/><path d="M522.1 106.6h2.6v2.6h-2.6z"/><path d="M522.3 104.5h2.6v2.6h-2.6z"/><path d="M522.4 107.8h2.6v2.6h-2.6z"/><path d="M522.6 105.1h2.6v2.6h-2.6z"/><path d="M522.8 105.4h2.6v2.6h-2.6z"/><path d="M522.9 106.4h2.6v2.6h-2.6z"/><path d="M523.1 106.8h2.6v2.6h-2.6z"/><path d="M523.2 103.8h2.6v2.6h-2.6z"/><path d="M523.4 104.7h2.6v2.6h-2.6z"/><path d="M523.5 103.3h2.6v2.6h-2.6z"/><path d="M523.7 105.1h2.6v2.6h-2.6z"/><path d="M523.9 104.7h2.6v2.6h-2.6z"/><path d="M524 104.3h2.6v2.6h-2.6z"/><path d="M524.2 103.8h2.6v2.6h-2.6z"/><path d="M524.3 104h2.6v2.6h-2.6z"/><path d="M524.5 103.5h2.6v2.6h-2.6z"/><path d="M524.6 104.9h2.6v2.6h-2.6z"/><path d="M524.8 106h2.6v2.6h-2.6z"/><path d="M524.9 101.8h2.6v2.6h-2.6z"/><path d="M525.1 103.9h2.6v2.6h-2.6z"/><path d="M525.3 103.4h2.6v2.6h-2.6z"/><path d="M525.4 104.4h2.6v2.6h-2.6z"/><path d="M525.6 102.6h2.6v2.6h-2.6z"/><path d="M525.7 103.4h2.6v2.6h-2.6z"/><path d="M525.9 102.3h2.6v2.6h-2.6z"/><path d="M526 104.3h2.6v2.6h-2.6z"/><path d="M526.2 103.4h2.6v2.6h-2.6z"/><path d="M526.3 103h2.6v2.6h-2.6z"/><path d="M526.5 103.6h2.6v2.6h-2.6z"/><path d="M526.6 102.7h2.6v2.6h-2.6z"/><path d="M526.8 101.1h2.6v2.6h-2.6z"/><path d="M526.9 103.5h2.6v2.6h-2.6z"/><path d="M527.1 103.1h2.6v2.6h-2.6z"/><path d="M527.2 102.5h2.6v2.6h-2.6z"/><path d="M527.4 103.7h2.6v2.6h-2.6z"/><path d="M527.5 103.9h2.6v2.6h-2.6z"/><path d="M527.7 101h2.6v2.6h-2.6z"/><path d="M527.8 101.3h2.6v2.6h-2.6z"/><path d="M528 104h2.6v2.6h-2.6z"/><path d="M528.1 103.8h2.6v2.6h-2.6z"/><path d="M528.3 101.1h2.6v2.6h-2.6z"/><path d="M528.4 100.4h2.6v2.6h-2.6z"/><path d="M528.6 101h2.6v2.6h-2.6z"/><path d="M528.7 101.1h2.6v2.6h-2.6z"/><path d="M528.9 99.6h2.6v2.6h-2.6z"/><path d="M529 101.4h2.6v2.6h-2.6z"/><path d="M529.2 99.7h2.6v2.6h-2.6z"/><path d="M529.3 99.7h2.6v2.6h-2.6z"/><path d="M529.5 102.1h2.6v2.6h-2.6z"/><path d="M529.6 100h2.6v2.6h-2.6z"/><path d="M529.8 100.6h2.6v2.6h-2.6z"/><path d="M529.9 101.3h2.6v2.6h-2.6z"/><path d="M530.1 101.4h2.6v2.6h-2.6z"/><path d="M530.2 99.9h2.6v2.6h-2.6z"/><path d="M530.4 100.2h2.6v2.6h-2.6z"/><path d="M530.5 99h2.6v2.6h-2.6z"/><path d="M530.7 102h2.6v2.6h-2.6z"/><path d="M530.8 100.5h2.6v2.6h-2.6z"/><path d="M531 98.3h2.6v2.6h-2.6z"/><path d="M531.1 99.5h2.6v2.6h-2.6z"/><path d="M531.2 100.2h2.6v2.6h-2.6z"/><path d="M531.4 99.8h2.6v2.6h-2.6z"/><path d="M531.5 101.2h2.6v2.6h-2.6z"/><path d="M531.7 100.6h2.6v2.6h-2.6z"/><path d="M531.8 98.1h2.6v2.6h-2.6z"/><path d="M532 98.4h2.6v2.6h-2.6z"/><path d="M532.1 96.8h2.6v2.6h-2.6z"/><path d="M532.3 98.4h2.6v2.6h-2.6z"/><path d="M532.4 98.1h2.6v2.6h-2.6z"/><path d="M532.6 101h2.6v2.6h-2.6z"/><path d="M532.7 97.7h2.6v2.6h-2.6z"/><path d="M532.8 94.8h2.6v2.6h-2.6z"/><path d="M533 96.4h2.6v2.6h-2.6z"/><path d="M533.1 97.1h2.6v2.6h-2.6z"/><path d="M533.3 95.3h2.6v2.6h-2.6z"/><path d="M533.4 95.5h2.6v2.6h-2.6z"/><path d="M533.6 96h2.6v2.6h-2.6z"/><path d="M533.7 96.6h2.6v2.6h-2.6z"/><path d="M533.8 95.6h2.6v2.6h-2.6z"/><path d="M534 94.3h2.6v2.6h-2.6z"/><path d="M534.1 95.9h2.6v2.6h-2.6z"/><path d="M534.3 93.8h2.6v2.6h-2.6z"/><path d="M534.4 93.5h2.6v2.6h-2.6z"/><path d="M534.6 92h2.6v2.6h-2.6z"/><path d="M534.7 92.3h2.6v2.6h-2.6z"/><path d="M534.8 93.4h2.6v2.6h-2.6z"/><path d="M535 90h2.6v2.6h-2.6z"/><path d="M535.1 91.2h2.6v2.6h-2.6z"/><path d="M535.3 91.5h2.6v2.6h-2.6z"/><path d="M535.4 89.6h2.6v2.6h-2.6z"/><path d="M535.5 89.7h2.6v2.6h-2.6z"/><path d="M535.7 87.4h2.6v2.6h-2.6z"/><path d="M535.8 89.7h2.6v2.6h-2.6z"/><path d="M536 88.8h2.6v2.6h-2.6z"/><path d="M536.1 87.2h2.6v2.6h-2.6z"/><path d="M536.2 84.2h2.6v2.6h-2.6z"/><path d="M536.4 84.4h2.6v2.6h-2.6z"/><path d="M536.5 86.2h2.6v2.6h-2.6z"/><path d="M536.7 86.4h2.6v2.6h-2.6z"/><path d="M536.8 84.5h2.6v2.6h-2.6z"/><path d="M536.9 85.5h2.6v2.6h-2.6z"/><path d="M537.1 83.1h2.6v2.6h-2.6z"/><path d="M537.2 83.5h2.6v2.6h-2.6z"/><path d="M537.4 83.5h2.6v2.6h-2.6z"/><path d="M537.5 83.9h2.6v2.6h-2.6z"/><path d="M537.6 81.4h2.6v2.6h-2.6z"/></g>
<path d="M31.40 259.20v1.7M76.08 259.20v1.7M107.79 259.20v1.7M152.47 259.20v1.7M208.76 259.20v1.7M285.15 259.20v1.7M329.83 259.20v1.7M361.54 259.20v1.7M406.22 259.20v1.7M462.51 259.20v1.7M538.90 259.20v1.7M31.40 259.20h-1.9M31.40 200.44h-1.9M31.40 166.07h-1.9M31.40 141.68h-1.9M31.40 107.30h-1.9M31.40 64.00h-1.9M31.40 5.24h-1.9M132.38 259.20v1.1M169.46 259.20v1.1M184.17 259.20v1.1M197.15 259.20v1.1M386.13 259.20v1.1M423.21 259.20v1.1M437.92 259.20v1.1M450.90 259.20v1.1M31.40 122.76h-1.2M31.40 94.24h-1.2M31.40 82.92h-1.2M31.40 72.93h-1.2" stroke="#222" stroke-width="0.8" fill="none"/>
<rect x="31.2" y="5.3" width="510.40" height="253.90" fill="none" stroke="#383838" stroke-width="1.45"/>
<g font-family="DejaVu Sans, Liberation Sans, sans-serif" font-size="7.65" fill="#000" stroke="#000" stroke-width="0.2">
<g text-anchor="middle"><text x="31.40" y="268.9">20</text><text x="76.08" y="268.9">30</text><text x="107.79" y="268.9">40</text><text x="152.47" y="268.9">60</text><text x="208.76" y="268.9">100</text><text x="285.15" y="268.9">200</text><text x="329.83" y="268.9">300</text><text x="361.54" y="268.9">400</text><text x="406.22" y="268.9">600</text><text x="462.51" y="268.9">1000</text><text x="538.90" y="268.9">2000</text></g>
<g text-anchor="end"><text x="27.2" y="261.95">1</text><text x="27.2" y="203.19">2</text><text x="27.2" y="168.82">3</text><text x="27.2" y="144.43">4</text><text x="27.2" y="110.05">6</text><text x="27.2" y="66.75">10</text><text x="27.2" y="7.99">20</text></g>
<text x="286.3" y="280.4" text-anchor="middle">GW frequency [Hz]</text>
<text transform="translate(10.6 160.9) rotate(-90)"><tspan font-style="italic">h</tspan><tspan font-size="4.9" dy="1.5">0</tspan><tspan font-size="4.8" dx="-3.1" dy="-5.4">95%</tspan><tspan dx="7.7" dy="3.9">[×10</tspan><tspan font-size="5.2" dy="-3">−25</tspan><tspan dy="3">]</tspan></text>
</g>
<g>
<rect x="225.5" y="9" width="121" height="58.2" rx="1.6" fill="#fff" fill-opacity="0.93" stroke="#d0d0d0" stroke-width="0.8"/>
<g fill-opacity="0.75">
<path d="M236.5 14.6l1.6 2.8h-3.2z" fill="#000"/>
<rect x="235.1" y="25.9" width="2.8" height="2.8" fill="#ff0000"/>
<circle cx="236.5" cy="38.5" r="1.5" fill="#0000ff"/>
<path d="M236.5 47.4l1.9 1.9-1.9 1.9-1.9-1.9z" fill="#ff00ff"/>
<rect x="235.2" y="59.4" width="2.6" height="2.6" fill="#008000"/>
</g>
<g font-family="DejaVu Sans, Liberation Sans, sans-serif" font-size="7.65" fill="#000" stroke="#000" stroke-width="0.2">
<text x="250.5" y="18.2">FrequencyHough</text>
<text x="250.5" y="29.4">SkyHough</text>
<text x="250.5" y="40.6">TD Fstat</text>
<text x="250.5" y="52.1">SOAP</text>
<text x="250.5" y="62.7">PowerFlux O3a pop-avg.</text>
</g>
</g>
</svg></body></html>
